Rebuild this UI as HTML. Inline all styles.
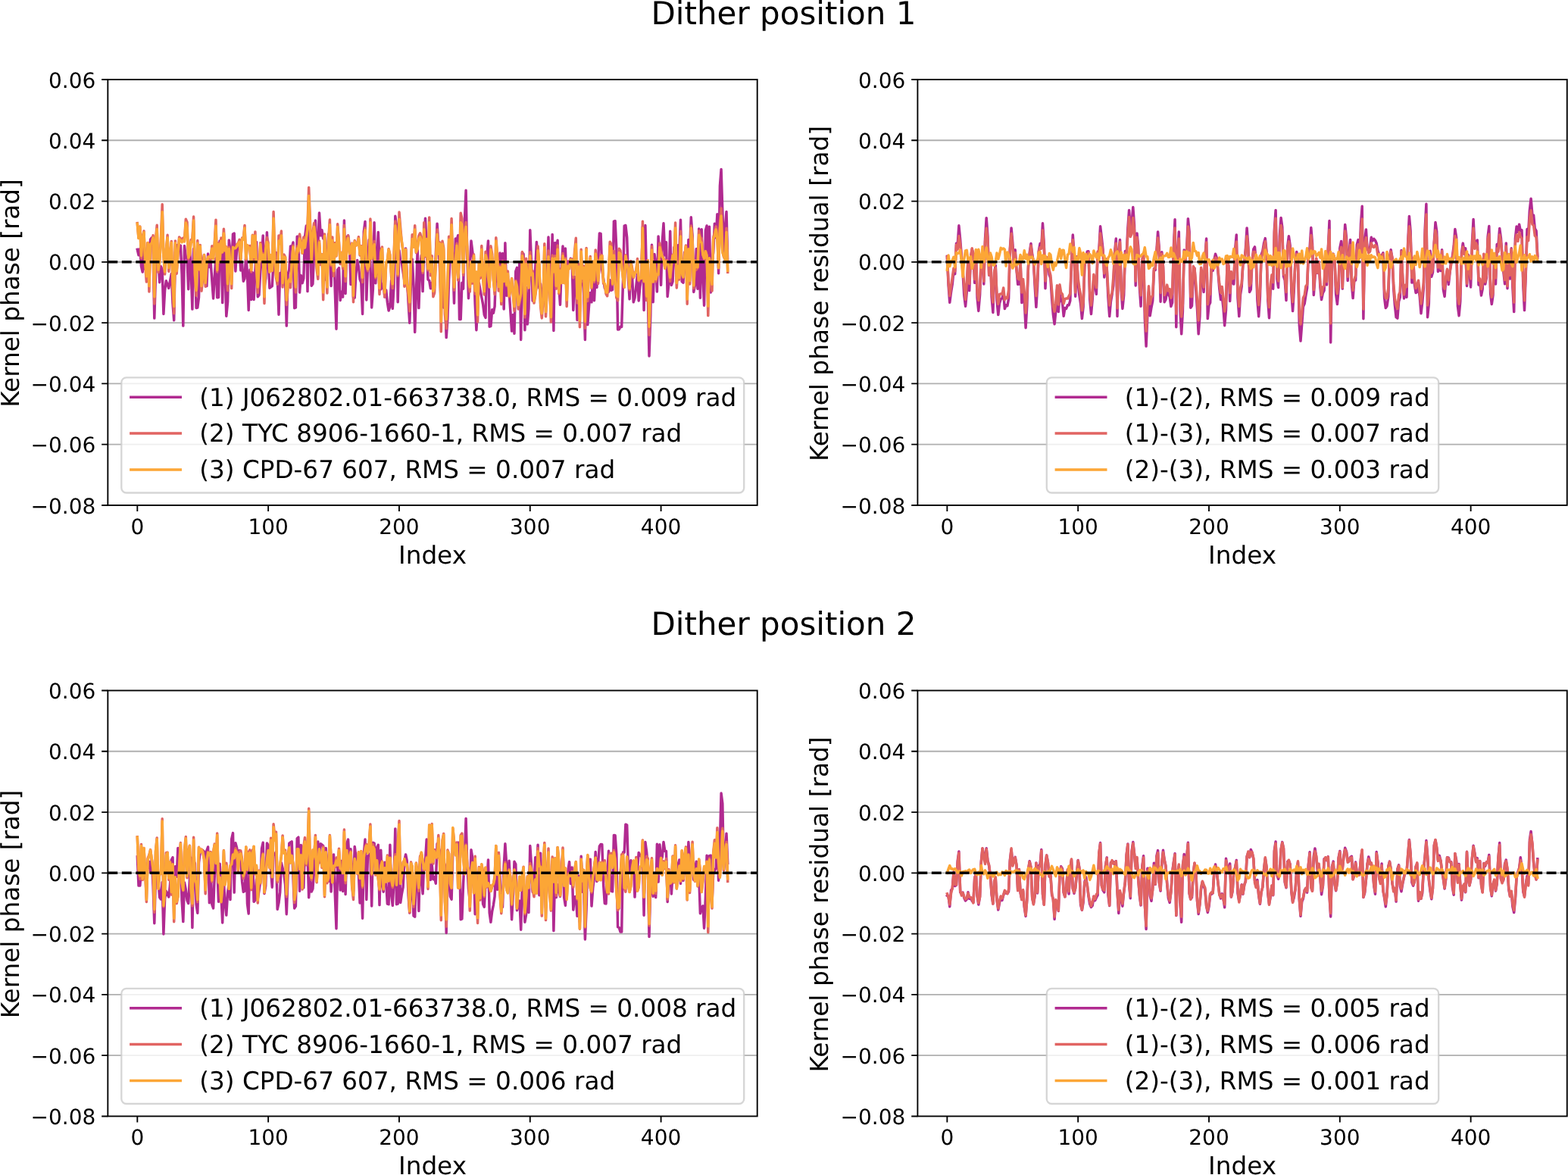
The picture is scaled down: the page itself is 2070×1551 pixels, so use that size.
<!DOCTYPE html><html><head><meta charset="utf-8"><style>html,body{margin:0;padding:0;background:#fff;}svg{display:block}text{font-family:"DejaVu Sans","Liberation Sans",sans-serif;fill:#000;text-rendering:geometricPrecision}</style></head><body>
<svg width="2070" height="1551" viewBox="0 0 2070 1551">
<rect width="2070" height="1551" fill="#fff"/>
<text x="1034.5" y="32.2" font-size="42.0" text-anchor="middle">Dither position 1</text>
<text x="1034.5" y="838.0" font-size="42.0" text-anchor="middle">Dither position 2</text>
<clipPath id="c00"><rect x="142.35" y="105.00" width="857.35" height="561.95"/></clipPath>
<path d="M142.35 185.28H999.70M142.35 265.56H999.70M142.35 345.84H999.70M142.35 426.11H999.70M142.35 506.39H999.70M142.35 586.67H999.70" stroke="#b0b0b0" stroke-width="1.867" fill="none"/>
<polyline clip-path="url(#c00)" points="181.3,329.4 183.0,336.8 184.8,328.4 186.5,351.7 188.2,359.1 190.0,320.8 191.7,355.3 193.4,341.1 195.1,320.8 196.9,343.8 198.6,316.1 200.3,313.8 202.1,327.6 203.8,420.1 205.5,362.0 207.2,336.4 209.0,342.1 210.7,372.7 212.4,351.7 214.2,356.5 215.9,414.5 217.6,383.3 219.3,370.8 221.1,375.6 222.8,380.4 224.5,371.0 226.3,361.5 228.0,400.1 229.7,422.8 231.4,333.1 233.2,323.7 234.9,323.8 236.6,330.7 238.4,324.1 240.1,361.6 241.8,430.1 243.5,324.5 245.3,338.6 247.0,341.3 248.7,381.8 250.4,325.1 252.2,357.7 253.9,408.1 255.6,328.2 257.4,342.9 259.1,406.5 260.8,406.0 262.5,392.5 264.3,333.4 266.0,345.4 267.7,348.4 269.5,336.4 271.2,361.4 272.9,377.6 274.6,335.0 276.4,352.6 278.1,345.3 279.8,369.4 281.6,393.9 283.3,364.0 285.0,341.1 286.7,392.8 288.5,392.5 290.2,318.0 291.9,317.1 293.7,399.6 295.4,315.3 297.1,356.3 298.8,417.3 300.6,398.3 302.3,316.9 304.0,331.6 305.7,356.9 307.5,309.0 309.2,308.1 310.9,357.9 312.7,327.4 314.4,322.9 316.1,330.2 317.8,356.9 319.6,348.2 321.3,371.2 323.0,367.7 324.8,335.0 326.5,361.6 328.2,409.5 329.9,356.1 331.7,395.5 333.4,359.7 335.1,395.5 336.9,359.0 338.6,319.4 340.3,391.8 342.0,389.5 343.8,358.0 345.5,339.2 347.2,310.9 349.0,378.6 350.7,367.6 352.4,306.7 354.1,345.1 355.9,380.2 357.6,378.9 359.3,377.6 361.1,343.9 362.8,347.8 364.5,333.6 366.2,366.7 368.0,415.2 369.7,360.4 371.4,366.7 373.1,340.7 374.9,357.5 376.6,370.8 378.3,430.1 380.1,362.1 381.8,355.6 383.5,325.1 385.2,327.3 387.0,320.0 388.7,406.7 390.4,405.9 392.2,312.3 393.9,312.3 395.6,386.0 397.3,363.4 399.1,373.7 400.8,367.6 402.5,313.4 404.3,298.1 406.0,384.6 407.7,296.1 409.4,304.8 411.2,377.2 412.9,374.7 414.6,334.7 416.4,291.0 418.1,335.6 419.8,323.5 421.5,281.1 423.3,310.9 425.0,303.8 426.7,315.1 428.5,313.6 430.2,369.2 431.9,346.8 433.6,309.1 435.4,325.1 437.1,377.5 438.8,318.7 440.5,321.1 442.3,385.3 444.0,434.2 445.7,356.1 447.5,353.7 449.2,396.4 450.9,385.3 452.6,392.1 454.4,291.0 456.1,387.4 457.8,313.1 459.6,310.8 461.3,323.4 463.0,375.5 464.7,324.8 466.5,392.3 468.2,393.1 469.9,361.7 471.7,343.5 473.4,351.8 475.1,368.6 476.8,373.1 478.6,414.4 480.3,305.9 482.0,292.4 483.8,396.0 485.5,350.9 487.2,316.6 488.9,349.5 490.7,405.9 492.4,381.4 494.1,293.8 495.8,373.8 497.6,339.4 499.3,306.6 501.0,344.7 502.8,381.8 504.5,378.7 506.2,373.4 507.9,392.0 509.7,382.9 511.4,399.3 513.1,410.1 514.9,404.5 516.6,370.3 518.3,407.3 520.0,378.1 521.8,285.3 523.5,297.6 525.2,398.8 527.0,330.5 528.7,344.9 530.4,346.8 532.1,359.1 533.9,370.7 535.6,327.9 537.3,364.5 539.1,399.6 540.8,426.3 542.5,374.4 544.2,342.1 546.0,376.7 547.7,438.5 549.4,386.6 551.2,328.6 552.9,406.6 554.6,352.8 556.3,337.0 558.1,384.6 559.8,322.7 561.5,288.2 563.2,328.6 565.0,369.0 566.7,370.4 568.4,380.8 570.2,373.3 571.9,383.9 573.6,376.1 575.3,335.7 577.1,295.2 578.8,323.2 580.5,354.5 582.3,403.2 584.0,325.8 585.7,405.9 587.4,390.0 589.2,445.6 590.9,420.3 592.6,369.6 594.4,338.0 596.1,310.8 597.8,341.2 599.5,400.2 601.3,315.1 603.0,317.2 604.7,310.8 606.5,421.5 608.2,421.5 609.9,373.3 611.6,381.2 613.4,291.9 615.1,251.3 616.8,340.4 618.5,393.7 620.3,352.7 622.0,317.9 623.7,331.8 625.5,347.7 627.2,401.8 628.9,435.7 630.6,403.3 632.4,373.7 634.1,383.0 635.8,392.3 637.6,401.6 639.3,415.5 641.0,419.4 642.7,341.1 644.5,317.9 646.2,431.2 647.9,430.7 649.7,408.7 651.4,413.2 653.1,404.5 654.8,352.5 656.6,371.0 658.3,366.3 660.0,334.0 661.8,358.2 663.5,334.4 665.2,408.0 666.9,320.8 668.7,390.3 670.4,385.7 672.1,383.8 673.9,411.5 675.6,437.1 677.3,415.5 679.0,440.3 680.8,358.0 682.5,353.4 684.2,384.3 685.9,345.9 687.7,448.4 689.4,333.5 691.1,335.5 692.9,435.7 694.6,379.5 696.3,427.9 698.0,407.0 699.8,303.8 701.5,346.6 703.2,397.1 705.0,377.7 706.7,354.5 708.4,319.4 710.1,352.6 711.9,380.3 713.6,374.9 715.3,390.5 717.1,395.6 718.8,350.6 720.5,405.8 722.2,368.0 724.0,313.0 725.7,374.7 727.4,381.4 729.2,309.4 730.9,436.4 732.6,320.6 734.3,329.4 736.1,317.2 737.8,376.3 739.5,402.3 741.3,351.9 743.0,325.0 744.7,356.3 746.4,328.0 748.2,376.0 749.9,344.9 751.6,351.3 753.3,341.2 755.1,342.9 756.8,409.4 758.5,365.4 760.3,369.0 762.0,422.4 763.7,366.4 765.4,411.9 767.2,346.0 768.9,362.5 770.6,386.8 772.4,448.4 774.1,352.0 775.8,428.6 777.5,404.4 779.3,386.6 781.0,398.8 782.7,361.4 784.5,396.7 786.2,359.6 787.9,379.3 789.6,344.5 791.4,308.0 793.1,308.4 794.8,356.7 796.6,367.7 798.3,380.3 800.0,378.8 801.7,386.3 803.5,385.3 805.2,369.8 806.9,383.2 808.6,382.4 810.4,292.1 812.1,291.7 813.8,328.4 815.6,435.0 817.3,434.8 819.0,431.2 820.7,431.4 822.5,371.5 824.2,298.1 825.9,297.5 827.7,313.5 829.4,365.9 831.1,394.8 832.8,353.2 834.6,365.9 836.3,398.8 838.0,393.2 839.8,377.6 841.5,361.9 843.2,396.9 844.9,378.6 846.7,366.6 848.4,299.3 850.1,409.5 851.9,297.5 853.6,367.0 855.3,392.0 857.0,470.0 858.8,416.3 860.5,323.3 862.2,398.7 864.0,335.5 865.7,349.3 867.4,385.0 869.1,312.0 870.9,341.6 872.6,376.3 874.3,318.9 876.0,294.8 877.8,337.1 879.5,319.8 881.2,391.4 883.0,373.3 884.7,305.3 886.4,376.5 888.1,371.6 889.9,326.4 891.6,327.4 893.3,371.6 895.1,323.7 896.8,331.8 898.5,290.3 900.2,371.6 902.0,373.1 903.7,333.1 905.4,344.5 907.2,375.7 908.9,316.4 910.6,331.6 912.3,286.7 914.1,311.3 915.8,385.5 917.5,376.2 919.3,328.6 921.0,381.3 922.7,302.0 924.4,393.2 926.2,302.7 927.9,364.9 929.6,403.2 931.4,304.3 933.1,298.0 934.8,372.8 936.5,299.3 938.3,386.0 940.0,345.4 941.7,333.3 943.4,295.2 945.2,313.7 946.9,282.7 948.6,360.7 950.4,245.3 952.1,223.5 953.8,279.3 955.5,330.9 957.3,300.1 959.0,279.5 960.7,346.3" fill="none" stroke="#b12a90" stroke-width="3.48" stroke-linejoin="round" stroke-linecap="square"/>
<polyline clip-path="url(#c00)" points="181.3,294.7 183.0,314.2 184.8,299.0 186.5,340.8 188.2,312.5 190.0,304.9 191.7,350.5 193.4,372.0 195.1,320.6 196.9,384.9 198.6,325.3 200.3,322.8 202.1,310.8 203.8,401.0 205.5,315.9 207.2,297.3 209.0,359.5 210.7,345.3 212.4,316.6 214.2,269.8 215.9,337.2 217.6,362.0 219.3,330.9 221.1,310.3 222.8,358.3 224.5,337.9 226.3,318.5 228.0,377.2 229.7,413.7 231.4,317.9 233.2,361.2 234.9,336.3 236.6,312.9 238.4,315.3 240.1,315.3 241.8,314.1 243.5,317.9 245.3,289.2 247.0,293.1 248.7,341.9 250.4,335.6 252.2,316.7 253.9,315.3 255.6,286.0 257.4,364.8 259.1,390.2 260.8,317.6 262.5,356.4 264.3,323.5 266.0,384.1 267.7,368.4 269.5,338.3 271.2,378.3 272.9,349.0 274.6,341.4 276.4,341.4 278.1,342.9 279.8,324.8 281.6,340.8 283.3,320.2 285.0,290.2 286.7,358.7 288.5,320.6 290.2,346.1 291.9,314.1 293.7,331.6 295.4,302.3 297.1,331.3 298.8,326.0 300.6,383.4 302.3,326.3 304.0,351.8 305.7,380.6 307.5,325.9 309.2,327.8 310.9,327.5 312.7,322.6 314.4,321.2 316.1,316.4 317.8,343.2 319.6,314.0 321.3,315.7 323.0,297.4 324.8,342.7 326.5,324.3 328.2,324.8 329.9,324.5 331.7,358.9 333.4,310.3 335.1,343.8 336.9,305.9 338.6,355.9 340.3,386.3 342.0,350.7 343.8,320.5 345.5,344.9 347.2,334.4 349.0,400.5 350.7,325.7 352.4,313.5 354.1,320.1 355.9,358.9 357.6,337.5 359.3,357.5 361.1,279.5 362.8,337.2 364.5,366.4 366.2,375.4 368.0,311.1 369.7,320.1 371.4,305.1 373.1,378.9 374.9,336.0 376.6,339.3 378.3,402.5 380.1,377.5 381.8,374.9 383.5,379.7 385.2,347.4 387.0,324.1 388.7,342.2 390.4,386.0 392.2,325.3 393.9,333.3 395.6,309.0 397.3,319.7 399.1,334.3 400.8,313.1 402.5,326.5 404.3,313.2 406.0,298.1 407.7,247.4 409.4,291.0 411.2,346.1 412.9,308.3 414.6,294.6 416.4,313.3 418.1,354.8 419.8,368.3 421.5,317.9 423.3,349.4 425.0,335.7 426.7,395.7 428.5,309.1 430.2,349.1 431.9,386.9 433.6,316.8 435.4,290.0 437.1,350.7 438.8,312.9 440.5,364.5 442.3,320.5 444.0,338.0 445.7,295.8 447.5,319.7 449.2,348.6 450.9,333.3 452.6,354.7 454.4,297.4 456.1,371.4 457.8,317.8 459.6,311.3 461.3,332.7 463.0,329.3 464.7,321.1 466.5,398.7 468.2,317.5 469.9,324.1 471.7,321.7 473.4,312.7 475.1,336.9 476.8,324.5 478.6,372.6 480.3,313.8 482.0,300.9 483.8,348.6 485.5,357.7 487.2,350.8 488.9,289.0 490.7,341.1 492.4,327.1 494.1,318.4 495.8,367.0 497.6,355.3 499.3,345.0 501.0,388.5 502.8,330.3 504.5,326.0 506.2,374.0 507.9,391.8 509.7,347.6 511.4,345.0 513.1,328.6 514.9,336.2 516.6,365.3 518.3,380.6 520.0,337.0 521.8,292.1 523.5,311.2 525.2,364.1 527.0,280.1 528.7,301.2 530.4,319.8 532.1,331.0 533.9,378.2 535.6,329.5 537.3,377.3 539.1,389.6 540.8,410.7 542.5,344.4 544.2,309.7 546.0,326.1 547.7,297.7 549.4,333.7 551.2,328.0 552.9,311.3 554.6,307.7 556.3,314.3 558.1,360.2 559.8,293.8 561.5,338.8 563.2,315.6 565.0,356.8 566.7,286.9 568.4,363.7 570.2,337.7 571.9,391.7 573.6,386.7 575.3,345.3 577.1,303.0 578.8,329.5 580.5,320.0 582.3,437.8 584.0,318.3 585.7,327.4 587.4,414.3 589.2,433.6 590.9,381.9 592.6,312.3 594.4,341.8 596.1,288.6 597.8,349.3 599.5,383.1 601.3,345.3 603.0,321.5 604.7,370.0 606.5,342.3 608.2,281.2 609.9,288.6 611.6,363.1 613.4,305.6 615.1,293.5 616.8,325.4 618.5,375.0 620.3,385.1 622.0,344.7 623.7,374.1 625.5,335.8 627.2,388.0 628.9,362.3 630.6,424.7 632.4,347.2 634.1,367.2 635.8,324.5 637.6,367.4 639.3,388.9 641.0,332.2 642.7,341.9 644.5,365.8 646.2,378.2 647.9,324.8 649.7,335.6 651.4,369.3 653.1,388.7 654.8,313.7 656.6,337.1 658.3,383.9 660.0,351.2 661.8,401.8 663.5,344.5 665.2,370.9 666.9,345.4 668.7,377.3 670.4,358.0 672.1,392.0 673.9,382.7 675.6,367.6 677.3,388.6 679.0,410.3 680.8,370.5 682.5,377.3 684.2,407.9 685.9,399.7 687.7,390.3 689.4,332.4 691.1,343.1 692.9,418.9 694.6,341.3 696.3,361.3 698.0,380.2 699.8,332.8 701.5,363.1 703.2,357.7 705.0,400.1 706.7,390.0 708.4,377.5 710.1,324.9 711.9,350.7 713.6,404.3 715.3,419.9 717.1,395.1 718.8,321.7 720.5,417.8 722.2,384.1 724.0,331.0 725.7,383.7 727.4,425.1 729.2,337.0 730.9,359.5 732.6,337.8 734.3,381.3 736.1,324.0 737.8,387.8 739.5,355.1 741.3,373.5 743.0,334.4 744.7,373.6 746.4,340.7 748.2,404.4 749.9,350.3 751.6,353.7 753.3,342.6 755.1,342.0 756.8,366.7 758.5,333.2 760.3,314.3 762.0,400.0 763.7,348.6 765.4,431.8 767.2,329.2 768.9,371.4 770.6,351.1 772.4,433.1 774.1,327.4 775.8,397.5 777.5,355.9 779.3,338.6 781.0,380.6 782.7,345.3 784.5,372.5 786.2,329.9 787.9,344.9 789.6,374.4 791.4,347.3 793.1,336.4 794.8,337.1 796.6,374.0 798.3,376.0 800.0,387.8 801.7,390.8 803.5,361.8 805.2,319.2 806.9,322.2 808.6,376.0 810.4,331.2 812.1,368.4 813.8,393.0 815.6,396.6 817.3,328.2 819.0,330.8 820.7,349.7 822.5,366.8 824.2,379.2 825.9,336.7 827.7,347.5 829.4,357.5 831.1,382.7 832.8,344.5 834.6,354.0 836.3,366.8 838.0,361.3 839.8,356.7 841.5,341.6 843.2,370.6 844.9,367.3 846.7,367.8 848.4,292.3 850.1,372.0 851.9,347.4 853.6,396.6 855.3,343.7 857.0,442.3 858.8,382.5 860.5,325.2 862.2,372.3 864.0,346.6 865.7,371.8 867.4,362.7 869.1,361.5 870.9,321.1 872.6,330.4 874.3,337.2 876.0,340.7 877.8,353.9 879.5,343.4 881.2,344.5 883.0,355.2 884.7,371.6 886.4,350.4 888.1,336.3 889.9,342.2 891.6,294.0 893.3,379.9 895.1,352.4 896.8,369.0 898.5,305.3 900.2,362.1 902.0,366.5 903.7,339.3 905.4,323.9 907.2,401.2 908.9,328.4 910.6,375.0 912.3,297.9 914.1,314.5 915.8,380.7 917.5,345.1 919.3,356.2 921.0,353.4 922.7,304.7 924.4,313.2 926.2,314.7 927.9,335.3 929.6,341.8 931.4,331.6 933.1,338.2 934.8,416.6 936.5,342.8 938.3,368.1 940.0,384.0 941.7,314.0 943.4,306.1 945.2,299.0 946.9,310.9 948.6,353.9 950.4,295.9 952.1,275.1 953.8,332.0 955.5,338.8 957.3,342.9 959.0,301.2 960.7,359.3" fill="none" stroke="#e16462" stroke-width="3.48" stroke-linejoin="round" stroke-linecap="square"/>
<polyline clip-path="url(#c00)" points="181.3,295.3 183.0,314.6 184.8,299.6 186.5,337.4 188.2,314.3 190.0,306.7 191.7,345.5 193.4,364.8 195.1,320.6 196.9,377.6 198.6,322.3 200.3,320.8 202.1,313.9 203.8,391.8 205.5,318.0 207.2,302.4 209.0,356.3 210.7,343.6 212.4,319.7 214.2,279.7 215.9,337.6 217.6,358.7 219.3,329.9 221.1,313.8 222.8,353.6 224.5,336.4 226.3,320.2 228.0,371.3 229.7,404.5 231.4,320.8 233.2,357.7 234.9,334.8 236.6,315.3 238.4,317.3 240.1,319.9 241.8,317.2 243.5,319.0 245.3,293.9 247.0,300.3 248.7,340.0 250.4,336.2 252.2,319.2 253.9,319.2 255.6,291.1 257.4,361.4 259.1,383.3 260.8,321.0 262.5,355.5 264.3,325.1 266.0,377.6 267.7,365.6 269.5,336.4 271.2,373.3 272.9,346.2 274.6,339.3 276.4,338.8 278.1,340.2 279.8,327.9 281.6,341.7 283.3,322.8 285.0,298.2 286.7,356.3 288.5,322.2 290.2,343.4 291.9,318.0 293.7,333.0 295.4,308.1 297.1,330.5 298.8,326.5 300.6,374.7 302.3,328.4 304.0,350.0 305.7,374.7 307.5,326.6 309.2,327.9 310.9,327.5 312.7,325.1 314.4,321.6 316.1,319.4 317.8,342.1 319.6,315.2 321.3,316.2 323.0,301.0 324.8,341.4 326.5,323.6 328.2,326.8 329.9,327.3 331.7,356.3 333.4,310.9 335.1,339.4 336.9,310.9 338.6,355.5 340.3,379.0 342.0,349.5 343.8,322.3 345.5,343.4 347.2,336.4 349.0,391.8 350.7,328.6 352.4,319.4 354.1,322.5 355.9,359.2 357.6,336.4 359.3,357.3 361.1,288.2 362.8,341.9 364.5,363.8 366.2,370.5 368.0,317.9 369.7,321.6 371.4,310.9 373.1,373.5 374.9,339.1 376.6,339.9 378.3,396.0 380.1,373.0 381.8,369.1 383.5,371.9 385.2,349.1 387.0,326.1 388.7,339.6 390.4,378.9 392.2,327.9 393.9,331.3 395.6,315.1 397.3,321.0 399.1,333.7 400.8,317.1 402.5,327.1 404.3,313.7 406.0,303.3 407.7,258.4 409.4,297.4 411.2,342.6 412.9,309.2 414.6,299.5 416.4,314.3 418.1,348.0 419.8,362.2 421.5,320.0 423.3,345.6 425.0,336.3 426.7,386.0 428.5,311.6 430.2,344.6 431.9,378.9 433.6,318.6 435.4,296.7 437.1,349.0 438.8,317.3 440.5,357.7 442.3,322.2 444.0,337.3 445.7,299.5 447.5,321.6 449.2,345.5 450.9,333.8 452.6,351.2 454.4,302.3 456.1,364.7 457.8,321.6 459.6,314.5 461.3,335.0 463.0,329.3 464.7,321.8 466.5,390.3 468.2,318.8 469.9,323.8 471.7,323.1 473.4,315.1 475.1,335.5 476.8,325.2 478.6,366.2 480.3,317.0 482.0,303.8 483.8,349.4 485.5,355.2 487.2,350.8 488.9,293.8 490.7,341.4 492.4,328.6 494.1,322.7 495.8,365.0 497.6,351.6 499.3,346.6 501.0,380.3 502.8,333.7 504.5,328.4 506.2,368.1 507.9,386.0 509.7,346.5 511.4,343.0 513.1,329.3 514.9,337.6 516.6,360.6 518.3,374.7 520.0,340.8 521.8,298.1 523.5,315.9 525.2,362.0 527.0,289.6 528.7,307.6 530.4,318.7 532.1,331.1 533.9,374.3 535.6,329.2 537.3,374.5 539.1,382.7 540.8,398.8 542.5,343.5 544.2,315.6 546.0,326.1 547.7,303.1 549.4,332.6 551.2,328.5 552.9,315.3 554.6,312.8 556.3,317.9 558.1,357.7 559.8,302.8 561.5,337.2 563.2,315.6 565.0,354.7 566.7,293.8 568.4,358.8 570.2,341.1 571.9,384.5 573.6,379.3 575.3,345.7 577.1,309.4 578.8,335.2 580.5,321.4 582.3,424.3 584.0,322.0 585.7,329.8 587.4,405.5 589.2,421.5 590.9,375.4 592.6,316.2 594.4,343.1 596.1,296.7 597.8,347.5 599.5,378.9 601.3,346.0 603.0,324.3 604.7,366.2 606.5,343.0 608.2,293.8 609.9,296.7 611.6,359.6 613.4,310.6 615.1,299.5 616.8,329.7 618.5,368.7 620.3,378.9 622.0,346.3 623.7,371.4 625.5,337.8 627.2,384.0 628.9,358.8 630.6,415.8 632.4,346.8 634.1,363.7 635.8,329.3 637.6,365.2 639.3,384.6 641.0,336.8 642.7,342.7 644.5,366.0 646.2,378.9 647.9,329.3 649.7,340.2 651.4,369.4 653.1,383.2 654.8,317.9 656.6,340.4 658.3,378.4 660.0,353.1 661.8,397.4 663.5,348.2 665.2,371.4 666.9,350.6 668.7,375.7 670.4,361.5 672.1,390.3 673.9,382.1 675.6,367.9 677.3,388.0 679.0,404.5 680.8,371.8 682.5,378.3 684.2,402.5 685.9,395.2 687.7,387.3 689.4,337.8 691.1,347.6 692.9,414.4 694.6,348.5 696.3,365.6 698.0,379.8 699.8,337.8 701.5,362.9 703.2,360.9 705.0,397.4 706.7,387.6 708.4,376.5 710.1,330.7 711.9,349.7 713.6,400.1 715.3,413.7 717.1,391.7 718.8,326.4 720.5,411.6 722.2,382.9 724.0,338.7 725.7,383.3 727.4,418.6 729.2,340.9 730.9,358.6 732.6,341.0 734.3,377.5 736.1,329.3 737.8,386.0 739.5,357.2 741.3,373.4 743.0,337.8 744.7,373.5 746.4,343.0 748.2,396.0 749.9,351.5 751.6,354.8 753.3,342.4 755.1,344.0 756.8,362.6 758.5,336.3 760.3,322.2 762.0,394.0 763.7,352.1 765.4,422.9 767.2,332.1 768.9,367.6 770.6,353.2 772.4,424.3 774.1,329.3 775.8,391.9 777.5,358.0 779.3,340.5 781.0,378.9 782.7,345.1 784.5,369.9 786.2,335.0 787.9,345.1 789.6,370.4 791.4,346.9 793.1,339.1 794.8,337.8 796.6,372.0 798.3,374.4 800.0,386.0 801.7,386.0 803.5,363.6 805.2,325.0 806.9,326.4 808.6,374.4 810.4,337.0 812.1,369.2 813.8,389.6 815.6,391.7 817.3,333.6 819.0,335.0 820.7,351.1 822.5,366.1 824.2,378.9 825.9,337.8 827.7,348.6 829.4,356.1 831.1,380.6 832.8,348.1 834.6,356.5 836.3,365.4 838.0,361.2 839.8,358.1 841.5,344.4 843.2,369.8 844.9,366.7 846.7,367.2 848.4,301.1 850.1,371.1 851.9,347.0 853.6,391.0 855.3,343.7 857.0,431.2 858.8,378.1 860.5,330.0 862.2,371.9 864.0,346.2 865.7,368.7 867.4,362.1 869.1,362.5 870.9,326.4 872.6,334.1 874.3,339.3 876.0,341.7 877.8,354.2 879.5,344.9 881.2,345.2 883.0,353.6 884.7,366.2 886.4,349.0 888.1,337.3 889.9,341.3 891.6,301.1 893.3,373.4 895.1,351.2 896.8,366.6 898.5,312.0 900.2,360.5 902.0,365.5 903.7,339.1 905.4,325.3 907.2,395.0 908.9,329.0 910.6,370.4 912.3,301.1 914.1,320.2 915.8,377.0 917.5,344.0 919.3,352.3 921.0,352.7 922.7,310.2 924.4,318.5 926.2,320.6 927.9,336.4 929.6,340.9 931.4,331.7 933.1,337.3 934.8,404.1 936.5,340.7 938.3,363.5 940.0,375.2 941.7,314.8 943.4,311.5 945.2,302.9 946.9,315.5 948.6,353.5 950.4,301.7 952.1,284.9 953.8,333.0 955.5,338.1 957.3,342.5 959.0,306.6 960.7,357.1" fill="none" stroke="#fca636" stroke-width="3.48" stroke-linejoin="round" stroke-linecap="square"/>
<path d="M142.35 345.84H999.70" stroke="#000" stroke-width="3.48" stroke-dasharray="12.88 5.57" fill="none"/>
<rect x="160.30" y="498.30" width="821.90" height="152.20" rx="6.5" ry="6.5" fill="#fff" fill-opacity="0.8" stroke="#cccccc" stroke-opacity="0.8" stroke-width="2.33"/>
<path d="M172.85 524.20H238.25" stroke="#b12a90" stroke-width="3.48" stroke-linecap="square"/>
<text x="263.30" y="535.90" font-size="32.67">(1) J062802.01-663738.0, RMS = 0.009 rad</text>
<path d="M172.85 572.05H238.25" stroke="#e16462" stroke-width="3.48" stroke-linecap="square"/>
<text x="263.30" y="583.40" font-size="32.67">(2) TYC 8906-1660-1, RMS = 0.007 rad</text>
<path d="M172.85 619.90H238.25" stroke="#fca636" stroke-width="3.48" stroke-linecap="square"/>
<text x="263.30" y="631.10" font-size="32.67">(3) CPD-67 607, RMS = 0.007 rad</text>
<rect x="142.35" y="105.00" width="857.35" height="561.95" fill="none" stroke="#000" stroke-width="1.867" stroke-linejoin="miter" stroke-linecap="square"/>
<path d="M142.35 105.00h-8.17M142.35 185.28h-8.17M142.35 265.56h-8.17M142.35 345.84h-8.17M142.35 426.11h-8.17M142.35 506.39h-8.17M142.35 586.67h-8.17M142.35 666.95h-8.17M181.32 666.95v8.17M354.14 666.95v8.17M526.96 666.95v8.17M699.77 666.95v8.17M872.59 666.95v8.17" stroke="#000" stroke-width="1.867" fill="none"/>
<text x="126.30" y="115.60" font-size="28.0" text-anchor="end">0.06</text>
<text x="126.30" y="195.88" font-size="28.0" text-anchor="end">0.04</text>
<text x="126.30" y="276.16" font-size="28.0" text-anchor="end">0.02</text>
<text x="126.30" y="356.44" font-size="28.0" text-anchor="end">0.00</text>
<text x="126.30" y="436.71" font-size="28.0" text-anchor="end">−0.02</text>
<text x="126.30" y="516.99" font-size="28.0" text-anchor="end">−0.04</text>
<text x="126.30" y="597.27" font-size="28.0" text-anchor="end">−0.06</text>
<text x="126.30" y="677.55" font-size="28.0" text-anchor="end">−0.08</text>
<text x="181.32" y="704.50" font-size="28.0" text-anchor="middle">0</text>
<text x="354.14" y="704.50" font-size="28.0" text-anchor="middle">100</text>
<text x="526.96" y="704.50" font-size="28.0" text-anchor="middle">200</text>
<text x="699.77" y="704.50" font-size="28.0" text-anchor="middle">300</text>
<text x="872.59" y="704.50" font-size="28.0" text-anchor="middle">400</text>
<text x="571.02" y="743.80" font-size="32.67" text-anchor="middle">Index</text>
<text transform="translate(24.80,386.98) rotate(-90)" font-size="32.67" text-anchor="middle">Kernel phase [rad]</text>
<clipPath id="c01"><rect x="1211.40" y="105.00" width="857.35" height="561.95"/></clipPath>
<path d="M1211.40 185.28H2068.75M1211.40 265.56H2068.75M1211.40 345.84H2068.75M1211.40 426.11H2068.75M1211.40 506.39H2068.75M1211.40 586.67H2068.75" stroke="#b0b0b0" stroke-width="1.867" fill="none"/>
<polyline clip-path="url(#c01)" points="1250.4,338.3 1252.1,376.8 1253.8,399.3 1255.6,385.1 1257.3,374.6 1259.0,357.6 1260.7,361.7 1262.5,321.2 1264.2,322.7 1265.9,297.8 1267.7,316.6 1269.4,338.8 1271.1,360.7 1272.8,389.8 1274.6,404.3 1276.3,385.3 1278.0,344.0 1279.7,383.6 1281.5,339.9 1283.2,329.3 1284.9,334.2 1286.7,373.3 1288.4,335.1 1290.1,393.1 1291.8,410.4 1293.6,389.2 1295.3,340.2 1297.0,338.3 1298.8,375.0 1300.5,315.6 1302.2,287.7 1303.9,311.0 1305.7,363.2 1307.4,335.0 1309.1,391.9 1310.9,412.4 1312.6,359.9 1314.3,350.1 1316.0,396.3 1317.8,415.5 1319.5,400.6 1321.2,394.7 1323.0,393.7 1324.7,386.4 1326.4,407.6 1328.1,402.7 1329.9,403.7 1331.6,394.2 1333.3,329.1 1335.1,300.9 1336.8,320.3 1338.5,348.0 1340.2,329.8 1342.0,355.9 1343.7,375.3 1345.4,375.1 1347.1,346.1 1348.9,399.6 1350.6,376.2 1352.3,397.1 1354.1,432.7 1355.8,403.5 1357.5,351.0 1359.2,333.6 1361.0,321.4 1362.7,335.6 1364.4,345.5 1366.2,378.6 1367.9,405.3 1369.6,377.8 1371.3,331.3 1373.1,321.5 1374.8,326.0 1376.5,294.8 1378.3,321.8 1380.0,380.8 1381.7,339.8 1383.4,344.7 1385.2,362.5 1386.9,367.3 1388.6,394.0 1390.4,415.5 1392.1,427.7 1393.8,411.4 1395.5,382.1 1397.3,411.5 1399.0,388.7 1400.7,395.9 1402.5,399.6 1404.2,417.3 1405.9,406.5 1407.6,407.4 1409.4,402.8 1411.1,402.7 1412.8,397.0 1414.5,348.1 1416.3,310.0 1418.0,334.5 1419.7,391.3 1421.5,338.8 1423.2,374.7 1424.9,389.6 1426.6,400.9 1428.4,420.6 1430.1,405.4 1431.8,351.7 1433.6,340.1 1435.3,332.0 1437.0,331.8 1438.7,395.2 1440.5,414.5 1442.2,395.1 1443.9,366.6 1445.7,376.8 1447.4,388.2 1449.1,334.3 1450.8,330.4 1452.6,298.8 1454.3,313.4 1456.0,328.6 1457.8,365.9 1459.5,342.0 1461.2,354.5 1462.9,392.4 1464.7,417.5 1466.4,398.1 1468.1,388.4 1469.8,377.0 1471.6,332.6 1473.3,315.1 1475.0,417.5 1476.8,331.2 1478.5,316.5 1480.2,383.1 1481.9,407.4 1483.7,389.3 1485.4,331.6 1487.1,338.1 1488.9,300.9 1490.6,277.5 1492.3,301.6 1494.0,296.0 1495.8,273.5 1497.5,297.7 1499.2,377.0 1501.0,307.9 1502.7,325.2 1504.4,379.9 1506.1,404.3 1507.9,345.4 1509.6,334.8 1511.3,420.0 1513.1,457.1 1514.8,417.7 1516.5,385.2 1518.2,416.7 1520.0,405.8 1521.7,397.2 1523.4,357.1 1525.2,356.3 1526.9,330.3 1528.6,305.9 1530.3,327.5 1532.1,398.2 1533.8,332.7 1535.5,353.0 1537.2,398.8 1539.0,395.4 1540.7,383.3 1542.4,388.2 1544.2,391.6 1545.9,404.5 1547.6,399.5 1549.3,328.6 1551.1,289.7 1552.8,431.7 1554.5,335.7 1556.3,306.0 1558.0,410.4 1559.7,440.8 1561.4,410.8 1563.2,329.9 1564.9,343.6 1566.6,330.0 1568.4,288.7 1570.1,305.7 1571.8,406.3 1573.5,403.8 1575.3,360.3 1577.0,354.1 1578.7,381.6 1580.5,407.8 1582.2,440.8 1583.9,417.3 1585.6,358.7 1587.4,364.3 1589.1,385.4 1590.8,340.8 1592.6,315.1 1594.3,420.6 1596.0,402.9 1597.7,399.5 1599.5,345.3 1601.2,357.3 1602.9,342.8 1604.6,335.2 1606.4,340.7 1608.1,360.4 1609.8,381.2 1611.6,395.6 1613.3,390.8 1615.0,406.8 1616.7,429.7 1618.5,409.0 1620.2,342.6 1621.9,351.4 1623.7,397.5 1625.4,361.0 1627.1,373.0 1628.8,375.0 1630.6,328.8 1632.3,310.0 1634.0,393.0 1635.8,417.5 1637.5,389.0 1639.2,378.1 1640.9,349.0 1642.7,346.6 1644.4,328.1 1646.1,300.9 1647.9,326.1 1649.6,385.4 1651.3,382.1 1653.0,345.6 1654.8,328.9 1656.5,325.9 1658.2,345.2 1659.9,396.6 1661.7,417.7 1663.4,392.0 1665.1,336.2 1666.9,331.0 1668.6,320.9 1670.3,314.6 1672.0,332.0 1673.8,396.3 1675.5,419.7 1677.2,383.6 1679.0,370.3 1680.7,381.2 1682.4,302.9 1684.1,277.4 1685.9,368.3 1687.6,379.6 1689.3,311.8 1691.1,287.5 1692.8,300.1 1694.5,364.8 1696.2,369.9 1698.0,396.5 1699.7,325.5 1701.4,311.7 1703.2,324.3 1704.9,386.1 1706.6,410.6 1708.3,383.2 1710.1,341.9 1711.8,332.4 1713.5,346.4 1715.3,429.2 1717.0,450.0 1718.7,427.9 1720.4,404.8 1722.2,400.7 1723.9,389.7 1725.6,380.2 1727.3,335.9 1729.1,326.6 1730.8,300.6 1732.5,321.8 1734.3,389.5 1736.0,365.7 1737.7,341.6 1739.4,360.6 1741.2,345.4 1742.9,379.3 1744.6,395.5 1746.4,386.7 1748.1,383.4 1749.8,333.8 1751.5,376.0 1753.3,328.8 1755.0,291.5 1756.7,452.0 1758.5,345.8 1760.2,335.1 1761.9,341.5 1763.6,388.2 1765.4,401.5 1767.1,381.7 1768.8,327.6 1770.6,318.5 1772.3,381.1 1774.0,326.0 1775.7,296.5 1777.5,314.0 1779.2,370.5 1780.9,335.9 1782.6,316.4 1784.4,375.6 1786.1,393.5 1787.8,370.7 1789.6,369.9 1791.3,323.0 1793.0,316.6 1794.7,338.2 1796.5,296.2 1798.2,272.3 1799.9,420.7 1801.7,316.9 1803.4,302.9 1805.1,329.3 1806.8,329.8 1808.6,326.9 1810.3,313.3 1812.0,317.9 1813.8,315.3 1815.5,317.3 1817.2,321.3 1818.9,330.8 1820.7,336.3 1822.4,337.8 1824.1,337.2 1825.9,333.9 1827.6,393.1 1829.3,406.6 1831.0,404.0 1832.8,391.6 1834.5,338.5 1836.2,329.8 1838.0,340.7 1839.7,380.8 1841.4,402.8 1843.1,418.7 1844.9,420.1 1846.6,397.9 1848.3,392.5 1850.0,330.5 1851.8,371.1 1853.5,393.9 1855.2,385.8 1857.0,392.2 1858.7,319.3 1860.4,285.4 1862.1,304.7 1863.9,373.1 1865.6,341.5 1867.3,374.8 1869.1,386.5 1870.8,385.4 1872.5,377.8 1874.2,391.2 1876.0,413.7 1877.7,399.1 1879.4,379.8 1881.2,302.3 1882.9,269.3 1884.6,418.7 1886.3,401.1 1888.1,331.3 1889.8,365.2 1891.5,359.4 1893.3,319.4 1895.0,293.5 1896.7,305.5 1898.4,358.4 1900.2,338.0 1901.9,357.5 1903.6,329.7 1905.4,382.5 1907.1,391.4 1908.8,368.0 1910.5,357.1 1912.3,375.5 1914.0,360.5 1915.7,344.9 1917.4,338.5 1919.2,325.1 1920.9,302.6 1922.6,313.3 1924.4,404.0 1926.1,416.7 1927.8,397.7 1929.5,333.9 1931.3,321.1 1933.0,331.9 1934.7,327.8 1936.5,377.5 1938.2,336.2 1939.9,358.4 1941.6,378.9 1943.4,320.5 1945.1,289.5 1946.8,322.8 1948.6,319.4 1950.3,317.0 1952.0,376.0 1953.7,371.6 1955.5,390.0 1957.2,381.3 1958.9,335.4 1960.7,375.1 1962.4,366.7 1964.1,312.5 1965.8,298.6 1967.6,387.2 1969.3,401.5 1971.0,389.8 1972.7,340.8 1974.5,374.9 1976.2,322.5 1977.9,324.1 1979.7,301.6 1981.4,313.9 1983.1,337.8 1984.8,358.6 1986.6,374.7 1988.3,320.9 1990.0,380.8 1991.8,335.9 1993.5,368.0 1995.2,327.7 1996.9,379.4 1998.7,411.6 2000.4,314.8 2002.1,298.9 2003.9,306.3 2005.6,296.2 2007.3,304.6 2009.0,303.7 2010.8,376.4 2012.5,409.6 2014.2,364.6 2016.0,302.5 2017.7,306.1 2019.4,277.1 2021.1,262.2 2022.9,283.3 2024.6,284.1 2026.3,301.8 2028.1,304.6 2029.8,337.8" fill="none" stroke="#b12a90" stroke-width="3.48" stroke-linejoin="round" stroke-linecap="square"/>
<polyline clip-path="url(#c01)" points="1250.4,339.3 1252.1,372.9 1253.8,390.5 1255.6,377.3 1257.3,366.0 1259.0,354.1 1260.7,357.9 1262.5,323.3 1264.2,329.2 1265.9,311.6 1267.7,323.3 1269.4,340.8 1271.1,355.2 1272.8,376.7 1274.6,395.3 1276.3,372.4 1278.0,341.2 1279.7,374.4 1281.5,340.3 1283.2,327.7 1284.9,336.3 1286.7,368.7 1288.4,336.9 1290.1,386.3 1291.8,396.5 1293.6,380.7 1295.3,340.7 1297.0,339.0 1298.8,371.3 1300.5,318.9 1302.2,301.3 1303.9,316.2 1305.7,362.9 1307.4,336.4 1309.1,384.3 1310.9,399.0 1312.6,358.4 1314.3,353.6 1316.0,388.4 1317.8,401.4 1319.5,388.3 1321.2,387.8 1323.0,388.4 1324.7,380.0 1326.4,395.7 1328.1,392.6 1329.9,393.7 1331.6,382.8 1333.3,330.5 1335.1,308.3 1336.8,327.3 1338.5,347.4 1340.2,333.4 1342.0,356.7 1343.7,367.6 1345.4,369.0 1347.1,347.0 1348.9,386.0 1350.6,368.5 1352.3,385.1 1354.1,412.9 1355.8,390.5 1357.5,352.5 1359.2,336.8 1361.0,324.2 1362.7,339.1 1364.4,345.5 1366.2,371.2 1367.9,390.5 1369.6,368.8 1371.3,332.3 1373.1,326.7 1374.8,328.1 1376.5,303.9 1378.3,326.9 1380.0,371.0 1381.7,340.0 1383.4,346.4 1385.2,356.6 1386.9,363.5 1388.6,383.1 1390.4,404.6 1392.1,411.3 1393.8,400.2 1395.5,376.7 1397.3,402.1 1399.0,375.8 1400.7,386.2 1402.5,388.3 1404.2,400.8 1405.9,394.6 1407.6,394.0 1409.4,394.1 1411.1,390.9 1412.8,387.6 1414.5,346.6 1416.3,316.8 1418.0,339.5 1419.7,385.9 1421.5,342.2 1423.2,367.5 1424.9,380.0 1426.6,389.1 1428.4,409.7 1430.1,398.9 1431.8,351.7 1433.6,341.9 1435.3,336.0 1437.0,333.9 1438.7,385.7 1440.5,403.1 1442.2,387.0 1443.9,362.2 1445.7,370.4 1447.4,379.8 1449.1,332.0 1450.8,334.0 1452.6,308.0 1454.3,321.8 1456.0,332.8 1457.8,360.8 1459.5,341.6 1461.2,353.1 1462.9,382.3 1464.7,403.1 1466.4,391.5 1468.1,386.5 1469.8,366.1 1471.6,333.6 1473.3,321.3 1475.0,406.7 1476.8,336.7 1478.5,319.7 1480.2,381.2 1481.9,395.7 1483.7,378.9 1485.4,334.2 1487.1,338.1 1488.9,310.2 1490.6,286.4 1492.3,312.5 1494.0,308.7 1495.8,287.4 1497.5,304.5 1499.2,370.9 1501.0,313.3 1502.7,330.4 1504.4,375.4 1506.1,389.8 1507.9,342.3 1509.6,333.9 1511.3,406.0 1513.1,437.1 1514.8,405.6 1516.5,377.8 1518.2,401.3 1520.0,392.8 1521.7,389.8 1523.4,354.5 1525.2,354.2 1526.9,333.2 1528.6,314.0 1530.3,331.6 1532.1,386.5 1533.8,335.0 1535.5,351.1 1537.2,389.6 1539.0,384.7 1540.7,376.1 1542.4,384.0 1544.2,381.5 1545.9,393.3 1547.6,386.9 1549.3,332.4 1551.1,301.1 1552.8,414.1 1554.5,337.8 1556.3,314.9 1558.0,401.1 1559.7,418.1 1561.4,401.0 1563.2,333.8 1564.9,342.7 1566.6,332.4 1568.4,299.0 1570.1,312.1 1571.8,391.7 1573.5,391.6 1575.3,351.6 1577.0,354.5 1578.7,374.0 1580.5,396.1 1582.2,422.9 1583.9,402.4 1585.6,353.2 1587.4,362.1 1589.1,378.9 1590.8,340.4 1592.6,320.1 1594.3,401.7 1596.0,389.4 1597.7,388.3 1599.5,346.1 1601.2,354.6 1602.9,343.8 1604.6,340.0 1606.4,341.7 1608.1,357.8 1609.8,374.6 1611.6,386.5 1613.3,378.4 1615.0,393.2 1616.7,411.0 1618.5,397.6 1620.2,345.3 1621.9,350.8 1623.7,386.7 1625.4,358.6 1627.1,368.0 1628.8,367.3 1630.6,331.6 1632.3,319.1 1634.0,384.4 1635.8,404.5 1637.5,380.0 1639.2,374.0 1640.9,348.7 1642.7,345.1 1644.4,331.6 1646.1,311.7 1647.9,331.3 1649.6,377.2 1651.3,373.8 1653.0,344.0 1654.8,332.6 1656.5,332.5 1658.2,342.5 1659.9,385.8 1661.7,402.5 1663.4,382.1 1665.1,340.2 1666.9,334.6 1668.6,325.4 1670.3,318.8 1672.0,334.7 1673.8,392.4 1675.5,405.4 1677.2,375.3 1679.0,362.8 1680.7,372.7 1682.4,306.5 1684.1,288.2 1685.9,361.1 1687.6,371.0 1689.3,321.4 1691.1,297.4 1692.8,308.0 1694.5,362.1 1696.2,363.9 1698.0,385.5 1699.7,330.5 1701.4,318.8 1703.2,329.1 1704.9,377.6 1706.6,398.5 1708.3,374.6 1710.1,346.5 1711.8,335.6 1713.5,349.7 1715.3,413.5 1717.0,428.1 1718.7,411.4 1720.4,393.2 1722.2,389.6 1723.9,377.8 1725.6,375.6 1727.3,336.1 1729.1,333.5 1730.8,310.6 1732.5,326.3 1734.3,382.5 1736.0,361.4 1737.7,341.0 1739.4,360.0 1741.2,345.7 1742.9,373.4 1744.6,389.5 1746.4,378.9 1748.1,377.5 1749.8,333.5 1751.5,371.8 1753.3,328.8 1755.0,303.4 1756.7,426.9 1758.5,344.7 1760.2,336.4 1761.9,340.7 1763.6,377.9 1765.4,387.6 1767.1,371.0 1768.8,331.9 1770.6,326.4 1772.3,379.4 1774.0,330.7 1775.7,304.9 1777.5,319.6 1779.2,365.3 1780.9,338.6 1782.6,323.6 1784.4,370.2 1786.1,383.2 1787.8,369.3 1789.6,363.6 1791.3,330.5 1793.0,322.7 1794.7,341.0 1796.5,306.8 1798.2,289.1 1799.9,408.1 1801.7,323.1 1803.4,313.7 1805.1,327.7 1806.8,333.8 1808.6,332.0 1810.3,320.9 1812.0,325.7 1813.8,326.4 1815.5,323.5 1817.2,325.6 1818.9,336.8 1820.7,338.2 1822.4,341.9 1824.1,339.0 1825.9,335.6 1827.6,382.7 1829.3,393.6 1831.0,393.8 1832.8,380.7 1834.5,340.9 1836.2,332.3 1838.0,340.3 1839.7,374.4 1841.4,394.0 1843.1,402.9 1844.9,407.5 1846.6,389.3 1848.3,385.4 1850.0,331.9 1851.8,366.4 1853.5,388.9 1855.2,376.3 1857.0,378.7 1858.7,321.0 1860.4,298.7 1862.1,312.8 1863.9,366.7 1865.6,340.6 1867.3,369.0 1869.1,380.6 1870.8,376.0 1872.5,370.2 1874.2,384.8 1876.0,400.9 1877.7,387.9 1879.4,373.0 1881.2,310.0 1882.9,283.0 1884.6,403.1 1886.3,390.3 1888.1,337.0 1889.8,360.1 1891.5,353.9 1893.3,320.7 1895.0,304.1 1896.7,313.6 1898.4,353.0 1900.2,336.7 1901.9,354.5 1903.6,331.6 1905.4,376.7 1907.1,381.2 1908.8,365.3 1910.5,355.2 1912.3,369.8 1914.0,358.6 1915.7,349.4 1917.4,341.6 1919.2,328.6 1920.9,311.4 1922.6,320.6 1924.4,391.5 1926.1,401.2 1927.8,385.7 1929.5,337.9 1931.3,326.0 1933.0,335.4 1934.7,333.2 1936.5,374.2 1938.2,338.3 1939.9,357.7 1941.6,368.0 1943.4,325.8 1945.1,301.2 1946.8,328.3 1948.6,321.0 1950.3,324.7 1952.0,370.3 1953.7,368.0 1955.5,381.5 1957.2,374.3 1958.9,335.3 1960.7,372.1 1962.4,362.6 1964.1,316.0 1965.8,309.1 1967.6,379.3 1969.3,392.2 1971.0,386.3 1972.7,342.1 1974.5,366.8 1976.2,328.1 1977.9,332.2 1979.7,309.9 1981.4,320.2 1983.1,337.4 1984.8,354.2 1986.6,369.5 1988.3,325.1 1990.0,377.5 1991.8,335.7 1993.5,363.2 1995.2,329.2 1996.9,370.6 1998.7,399.1 2000.4,321.4 2002.1,310.1 2003.9,318.4 2005.6,306.4 2007.3,312.6 2009.0,314.4 2010.8,368.9 2012.5,396.7 2014.2,360.0 2016.0,312.7 2017.7,317.6 2019.4,289.3 2021.1,277.7 2022.9,296.1 2024.6,297.3 2026.3,311.2 2028.1,313.2 2029.8,340.5" fill="none" stroke="#e16462" stroke-width="3.48" stroke-linejoin="round" stroke-linecap="square"/>
<polyline clip-path="url(#c01)" points="1250.4,356.1 1252.1,337.1 1253.8,351.6 1255.6,344.9 1257.3,343.7 1259.0,339.2 1260.7,352.8 1262.5,333.4 1264.2,334.7 1265.9,334.0 1267.7,330.1 1269.4,345.2 1271.1,365.3 1272.8,341.9 1274.6,330.9 1276.3,330.4 1278.0,343.2 1279.7,341.8 1281.5,338.7 1283.2,354.2 1284.9,347.8 1286.7,346.6 1288.4,329.5 1290.1,344.0 1291.8,329.2 1293.6,338.8 1295.3,353.2 1297.0,325.6 1298.8,345.8 1300.5,336.7 1302.2,327.0 1303.9,342.7 1305.7,350.3 1307.4,334.1 1309.1,339.1 1310.9,349.8 1312.6,350.2 1314.3,345.0 1316.0,333.9 1317.8,341.8 1319.5,335.8 1321.2,327.3 1323.0,328.9 1324.7,327.9 1326.4,329.3 1328.1,351.2 1329.9,332.9 1331.6,337.0 1333.3,341.0 1335.1,348.9 1336.8,354.0 1338.5,351.1 1340.2,342.4 1342.0,349.8 1343.7,348.2 1345.4,346.5 1347.1,336.4 1348.9,342.2 1350.6,342.0 1352.3,330.7 1354.1,341.6 1355.8,336.2 1357.5,348.0 1359.2,339.2 1361.0,339.5 1362.7,339.1 1364.4,343.9 1366.2,349.0 1367.9,344.2 1369.6,344.7 1371.3,333.4 1373.1,332.6 1374.8,348.6 1376.5,337.0 1378.3,343.7 1380.0,337.6 1381.7,343.8 1383.4,352.3 1385.2,334.6 1386.9,336.3 1388.6,349.3 1390.4,356.3 1392.1,347.1 1393.8,350.6 1395.5,344.9 1397.3,336.5 1399.0,328.8 1400.7,341.6 1402.5,330.3 1404.2,330.2 1405.9,342.4 1407.6,353.6 1409.4,336.1 1411.1,335.3 1412.8,321.9 1414.5,326.9 1416.3,332.6 1418.0,326.5 1419.7,346.5 1421.5,340.0 1423.2,342.6 1424.9,327.6 1426.6,334.3 1428.4,363.0 1430.1,333.5 1431.8,346.4 1433.6,335.5 1435.3,343.4 1437.0,339.1 1438.7,335.5 1440.5,338.3 1442.2,347.5 1443.9,330.9 1445.7,336.0 1447.4,340.0 1449.1,335.0 1450.8,343.7 1452.6,326.6 1454.3,336.7 1456.0,337.1 1457.8,337.3 1459.5,347.0 1461.2,350.4 1462.9,340.3 1464.7,337.7 1466.4,329.8 1468.1,335.4 1469.8,348.0 1471.6,337.6 1473.3,333.7 1475.0,331.8 1476.8,336.6 1478.5,349.2 1480.2,332.9 1481.9,344.9 1483.7,336.7 1485.4,351.9 1487.1,336.3 1488.9,345.8 1490.6,333.0 1492.3,325.9 1494.0,329.3 1495.8,347.7 1497.5,348.7 1499.2,348.3 1501.0,336.6 1502.7,337.2 1504.4,338.8 1506.1,337.8 1507.9,335.7 1509.6,334.8 1511.3,326.7 1513.1,338.8 1514.8,338.7 1516.5,354.4 1518.2,352.7 1520.0,347.6 1521.7,350.6 1523.4,340.3 1525.2,332.5 1526.9,342.6 1528.6,344.5 1530.3,345.0 1532.1,340.2 1533.8,344.7 1535.5,337.9 1537.2,337.9 1539.0,337.5 1540.7,334.3 1542.4,339.4 1544.2,339.3 1545.9,327.0 1547.6,338.9 1549.3,334.3 1551.1,339.2 1552.8,343.9 1554.5,344.6 1556.3,347.5 1558.0,341.6 1559.7,345.4 1561.4,344.6 1563.2,331.9 1564.9,340.3 1566.6,331.9 1568.4,337.3 1570.1,333.6 1571.8,344.2 1573.5,340.1 1575.3,320.4 1577.0,331.3 1578.7,331.6 1580.5,337.5 1582.2,333.6 1583.9,348.5 1585.6,348.3 1587.4,338.5 1589.1,334.1 1590.8,342.8 1592.6,342.4 1594.3,343.7 1596.0,342.6 1597.7,350.1 1599.5,353.0 1601.2,343.2 1602.9,354.3 1604.6,350.2 1606.4,347.2 1608.1,349.7 1609.8,340.3 1611.6,344.1 1613.3,341.9 1615.0,348.6 1616.7,347.6 1618.5,337.9 1620.2,337.6 1621.9,343.9 1623.7,338.5 1625.4,339.0 1627.1,339.4 1628.8,328.5 1630.6,342.1 1632.3,337.8 1634.0,337.2 1635.8,342.1 1637.5,349.9 1639.2,337.0 1640.9,338.3 1642.7,340.1 1644.4,340.6 1646.1,340.7 1647.9,347.7 1649.6,339.7 1651.3,354.5 1653.0,343.2 1654.8,352.7 1656.5,345.4 1658.2,336.2 1659.9,342.3 1661.7,344.9 1663.4,337.7 1665.1,342.6 1666.9,344.4 1668.6,344.6 1670.3,330.1 1672.0,334.4 1673.8,336.4 1675.5,349.5 1677.2,337.6 1679.0,350.4 1680.7,338.9 1682.4,349.3 1684.1,327.5 1685.9,351.9 1687.6,333.4 1689.3,333.9 1691.1,353.6 1692.8,344.9 1694.5,330.7 1696.2,330.9 1698.0,352.3 1699.7,346.8 1701.4,351.0 1703.2,350.5 1704.9,347.5 1706.6,328.1 1708.3,338.2 1710.1,342.5 1711.8,343.9 1713.5,336.5 1715.3,335.2 1717.0,347.3 1718.7,330.9 1720.4,347.9 1722.2,344.3 1723.9,338.2 1725.6,327.7 1727.3,341.8 1729.1,339.1 1730.8,331.0 1732.5,334.9 1734.3,331.7 1736.0,331.9 1737.7,337.8 1739.4,335.9 1741.2,333.4 1742.9,340.2 1744.6,328.9 1746.4,354.5 1748.1,350.2 1749.8,331.5 1751.5,336.5 1753.3,345.4 1755.0,338.9 1756.7,332.6 1758.5,344.2 1760.2,335.8 1761.9,341.3 1763.6,342.1 1765.4,341.9 1767.1,332.8 1768.8,348.5 1770.6,345.1 1772.3,336.7 1774.0,349.8 1775.7,354.5 1777.5,338.9 1779.2,340.8 1780.9,342.3 1782.6,340.3 1784.4,348.5 1786.1,320.1 1787.8,345.5 1789.6,345.2 1791.3,352.6 1793.0,346.1 1794.7,330.3 1796.5,339.4 1798.2,336.4 1799.9,344.2 1801.7,327.8 1803.4,337.9 1805.1,350.2 1806.8,336.7 1808.6,343.3 1810.3,336.9 1812.0,339.5 1813.8,338.9 1815.5,339.8 1817.2,347.9 1818.9,353.6 1820.7,335.6 1822.4,341.4 1824.1,339.0 1825.9,344.4 1827.6,357.1 1829.3,353.3 1831.0,332.4 1832.8,345.9 1834.5,344.8 1836.2,352.9 1838.0,347.0 1839.7,344.9 1841.4,343.4 1843.1,342.1 1844.9,346.2 1846.6,346.3 1848.3,342.1 1850.0,338.9 1851.8,342.0 1853.5,328.0 1855.2,337.7 1857.0,339.5 1858.7,346.0 1860.4,334.1 1862.1,348.0 1863.9,354.6 1865.6,350.7 1867.3,337.9 1869.1,349.5 1870.8,332.6 1872.5,340.1 1874.2,352.6 1876.0,344.7 1877.7,328.2 1879.4,345.8 1881.2,351.9 1882.9,338.9 1884.6,330.9 1886.3,332.0 1888.1,342.4 1889.8,340.0 1891.5,338.6 1893.3,331.9 1895.0,323.5 1896.7,339.4 1898.4,331.1 1900.2,342.4 1901.9,336.9 1903.6,347.7 1905.4,348.1 1907.1,339.1 1908.8,347.8 1910.5,335.5 1912.3,344.6 1914.0,341.2 1915.7,341.9 1917.4,343.9 1919.2,340.7 1920.9,332.9 1922.6,316.3 1924.4,346.6 1926.1,339.8 1927.8,342.4 1929.5,348.4 1931.3,340.1 1933.0,347.8 1934.7,342.8 1936.5,332.0 1938.2,355.3 1939.9,341.5 1941.6,337.9 1943.4,348.1 1945.1,338.3 1946.8,338.1 1948.6,343.5 1950.3,332.3 1952.0,349.9 1953.7,337.7 1955.5,342.5 1957.2,349.5 1958.9,343.9 1960.7,344.3 1962.4,335.5 1964.1,351.8 1965.8,344.3 1967.6,345.2 1969.3,329.9 1971.0,348.1 1972.7,334.2 1974.5,353.6 1976.2,340.5 1977.9,342.2 1979.7,338.5 1981.4,346.2 1983.1,356.9 1984.8,355.4 1986.6,333.4 1988.3,338.5 1990.0,347.5 1991.8,335.4 1993.5,346.1 1995.2,347.7 1996.9,351.6 1998.7,333.9 2000.4,325.3 2002.1,346.3 2003.9,339.9 2005.6,333.7 2007.3,324.1 2009.0,357.1 2010.8,342.7 2012.5,336.7 2014.2,352.0 2016.0,339.9 2017.7,339.7 2019.4,335.7 2021.1,345.0 2022.9,338.8 2024.6,345.7 2026.3,337.5 2028.1,339.7 2029.8,344.1" fill="none" stroke="#fca636" stroke-width="3.48" stroke-linejoin="round" stroke-linecap="square"/>
<path d="M1211.40 345.84H2068.75" stroke="#000" stroke-width="3.48" stroke-dasharray="12.88 5.57" fill="none"/>
<rect x="1381.80" y="498.30" width="517.40" height="152.20" rx="6.5" ry="6.5" fill="#fff" fill-opacity="0.8" stroke="#cccccc" stroke-opacity="0.8" stroke-width="2.33"/>
<path d="M1394.35 524.20H1459.75" stroke="#b12a90" stroke-width="3.48" stroke-linecap="square"/>
<text x="1484.80" y="535.90" font-size="32.67">(1)-(2), RMS = 0.009 rad</text>
<path d="M1394.35 572.05H1459.75" stroke="#e16462" stroke-width="3.48" stroke-linecap="square"/>
<text x="1484.80" y="583.40" font-size="32.67">(1)-(3), RMS = 0.007 rad</text>
<path d="M1394.35 619.90H1459.75" stroke="#fca636" stroke-width="3.48" stroke-linecap="square"/>
<text x="1484.80" y="631.10" font-size="32.67">(2)-(3), RMS = 0.003 rad</text>
<rect x="1211.40" y="105.00" width="857.35" height="561.95" fill="none" stroke="#000" stroke-width="1.867" stroke-linejoin="miter" stroke-linecap="square"/>
<path d="M1211.40 105.00h-8.17M1211.40 185.28h-8.17M1211.40 265.56h-8.17M1211.40 345.84h-8.17M1211.40 426.11h-8.17M1211.40 506.39h-8.17M1211.40 586.67h-8.17M1211.40 666.95h-8.17M1250.37 666.95v8.17M1423.19 666.95v8.17M1596.01 666.95v8.17M1768.82 666.95v8.17M1941.64 666.95v8.17" stroke="#000" stroke-width="1.867" fill="none"/>
<text x="1195.35" y="115.60" font-size="28.0" text-anchor="end">0.06</text>
<text x="1195.35" y="195.88" font-size="28.0" text-anchor="end">0.04</text>
<text x="1195.35" y="276.16" font-size="28.0" text-anchor="end">0.02</text>
<text x="1195.35" y="356.44" font-size="28.0" text-anchor="end">0.00</text>
<text x="1195.35" y="436.71" font-size="28.0" text-anchor="end">−0.02</text>
<text x="1195.35" y="516.99" font-size="28.0" text-anchor="end">−0.04</text>
<text x="1195.35" y="597.27" font-size="28.0" text-anchor="end">−0.06</text>
<text x="1195.35" y="677.55" font-size="28.0" text-anchor="end">−0.08</text>
<text x="1250.37" y="704.50" font-size="28.0" text-anchor="middle">0</text>
<text x="1423.19" y="704.50" font-size="28.0" text-anchor="middle">100</text>
<text x="1596.01" y="704.50" font-size="28.0" text-anchor="middle">200</text>
<text x="1768.82" y="704.50" font-size="28.0" text-anchor="middle">300</text>
<text x="1941.64" y="704.50" font-size="28.0" text-anchor="middle">400</text>
<text x="1640.07" y="743.80" font-size="32.67" text-anchor="middle">Index</text>
<text transform="translate(1093.05,387.48) rotate(-90)" font-size="32.8" text-anchor="middle">Kernel phase residual [rad]</text>
<clipPath id="c10"><rect x="142.35" y="911.50" width="857.35" height="561.95"/></clipPath>
<path d="M142.35 991.78H999.70M142.35 1072.06H999.70M142.35 1152.34H999.70M142.35 1232.61H999.70M142.35 1312.89H999.70M142.35 1393.17H999.70" stroke="#b0b0b0" stroke-width="1.867" fill="none"/>
<polyline clip-path="url(#c10)" points="181.3,1130.8 183.0,1169.1 184.8,1169.1 186.5,1147.8 188.2,1138.3 190.0,1136.1 191.7,1160.0 193.4,1157.7 195.1,1139.3 196.9,1137.4 198.6,1151.3 200.3,1133.6 202.1,1169.6 203.8,1218.7 205.5,1155.0 207.2,1149.1 209.0,1163.4 210.7,1184.4 212.4,1186.9 214.2,1164.6 215.9,1232.9 217.6,1186.3 219.3,1176.2 221.1,1180.1 222.8,1184.0 224.5,1168.8 226.3,1135.0 228.0,1131.9 229.7,1197.4 231.4,1143.7 233.2,1157.3 234.9,1119.4 236.6,1132.6 238.4,1137.7 240.1,1188.4 241.8,1216.6 243.5,1165.1 245.3,1174.2 247.0,1188.4 248.7,1192.5 250.4,1162.3 252.2,1132.2 253.9,1224.4 255.6,1136.4 257.4,1139.7 259.1,1193.9 260.8,1205.2 262.5,1138.7 264.3,1124.6 266.0,1123.5 267.7,1122.4 269.5,1124.3 271.2,1159.0 272.9,1122.9 274.6,1118.0 276.4,1191.8 278.1,1142.6 279.8,1193.7 281.6,1198.9 283.3,1155.9 285.0,1129.4 286.7,1140.2 288.5,1190.3 290.2,1140.2 291.9,1180.6 293.7,1218.0 295.4,1163.7 297.1,1191.8 298.8,1208.1 300.6,1178.3 302.3,1166.2 304.0,1187.5 305.7,1107.6 307.5,1099.6 309.2,1178.1 310.9,1112.8 312.7,1119.4 314.4,1135.2 316.1,1122.6 317.8,1131.5 319.6,1163.9 321.3,1177.2 323.0,1176.2 324.8,1125.1 326.5,1193.0 328.2,1206.0 329.9,1123.3 331.7,1140.2 333.4,1122.1 335.1,1190.3 336.9,1188.1 338.6,1160.8 340.3,1186.2 342.0,1175.5 343.8,1163.1 345.5,1120.2 347.2,1112.3 349.0,1179.4 350.7,1169.5 352.4,1113.0 354.1,1115.7 355.9,1142.3 357.6,1147.8 359.3,1171.2 361.1,1126.5 362.8,1128.0 364.5,1124.3 366.2,1200.3 368.0,1191.7 369.7,1177.7 371.4,1138.9 373.1,1145.8 374.9,1154.3 376.6,1167.6 378.3,1206.7 380.1,1155.5 381.8,1113.1 383.5,1112.0 385.2,1110.9 387.0,1158.6 388.7,1198.9 390.4,1196.0 392.2,1106.7 393.9,1105.2 395.6,1176.2 397.3,1115.6 399.1,1159.2 400.8,1171.9 402.5,1120.4 404.3,1134.0 406.0,1126.5 407.7,1184.7 409.4,1159.0 411.2,1177.1 412.9,1173.3 414.6,1149.1 416.4,1117.6 418.1,1131.2 419.8,1110.9 421.5,1138.7 423.3,1113.8 425.0,1115.2 426.7,1116.6 428.5,1152.7 430.2,1119.4 431.9,1138.6 433.6,1163.3 435.4,1127.0 437.1,1176.9 438.8,1142.1 440.5,1127.9 442.3,1181.1 444.0,1225.8 445.7,1144.8 447.5,1133.6 449.2,1175.0 450.9,1136.4 452.6,1176.4 454.4,1125.1 456.1,1180.4 457.8,1113.8 459.6,1108.1 461.3,1139.8 463.0,1120.8 464.7,1152.2 466.5,1176.2 468.2,1117.4 469.9,1130.9 471.7,1141.0 473.4,1152.9 475.1,1192.0 476.8,1157.6 478.6,1212.3 480.3,1126.6 482.0,1108.1 483.8,1187.5 485.5,1130.0 487.2,1129.0 488.9,1126.6 490.7,1196.0 492.4,1112.3 494.1,1113.0 495.8,1147.8 497.6,1118.8 499.3,1115.2 501.0,1194.6 502.8,1122.3 504.5,1167.1 506.2,1177.2 507.9,1138.3 509.7,1164.7 511.4,1193.2 513.1,1193.7 514.9,1115.3 516.6,1181.0 518.3,1195.3 520.0,1164.6 521.8,1093.9 523.5,1193.7 525.2,1193.2 527.0,1125.1 528.7,1191.5 530.4,1179.8 532.1,1171.2 533.9,1136.0 535.6,1127.9 537.3,1136.7 539.1,1182.1 540.8,1205.0 542.5,1167.6 544.2,1166.1 546.0,1208.9 547.7,1210.2 549.4,1143.5 551.2,1148.3 552.9,1202.4 554.6,1130.3 556.3,1157.5 558.1,1179.7 559.8,1140.4 561.5,1135.7 563.2,1108.1 565.0,1170.5 566.7,1131.9 568.4,1161.4 570.2,1141.3 571.9,1160.7 573.6,1157.9 575.3,1166.2 577.1,1113.8 578.8,1118.5 580.5,1123.2 582.3,1186.5 584.0,1132.7 585.7,1137.4 587.4,1142.1 589.2,1231.5 590.9,1136.2 592.6,1160.1 594.4,1183.3 596.1,1187.1 597.8,1124.3 599.5,1121.3 601.3,1118.3 603.0,1115.3 604.7,1112.3 606.5,1112.3 608.2,1213.8 609.9,1213.0 611.6,1166.2 613.4,1129.9 615.1,1080.4 616.8,1141.9 618.5,1173.3 620.3,1188.7 622.0,1121.8 623.7,1132.2 625.5,1147.6 627.2,1206.7 628.9,1188.4 630.6,1197.6 632.4,1148.8 634.1,1178.8 635.8,1164.9 637.6,1193.2 639.3,1197.2 641.0,1165.5 642.7,1167.2 644.5,1135.0 646.2,1205.0 647.9,1217.3 649.7,1202.8 651.4,1194.6 653.1,1183.3 654.8,1144.3 656.6,1174.2 658.3,1125.4 660.0,1155.1 661.8,1195.0 663.5,1197.3 665.2,1143.6 666.9,1113.8 668.7,1142.1 670.4,1170.0 672.1,1136.3 673.9,1170.2 675.6,1213.8 677.3,1182.2 679.0,1137.3 680.8,1140.7 682.5,1201.7 684.2,1193.2 685.9,1189.1 687.7,1227.2 689.4,1167.7 691.1,1159.1 692.9,1217.3 694.6,1206.9 696.3,1176.2 698.0,1204.5 699.8,1116.6 701.5,1141.8 703.2,1177.4 705.0,1168.5 706.7,1131.8 708.4,1148.5 710.1,1115.2 711.9,1181.8 713.6,1126.3 715.3,1183.4 717.1,1148.4 718.8,1124.8 720.5,1198.1 722.2,1157.7 724.0,1130.6 725.7,1183.3 727.4,1179.3 729.2,1136.4 730.9,1228.6 732.6,1154.5 734.3,1184.6 736.1,1167.7 737.8,1175.5 739.5,1183.3 741.3,1152.4 743.0,1121.6 744.7,1184.8 746.4,1195.3 748.2,1157.8 749.9,1148.7 751.6,1137.7 753.3,1166.5 755.1,1144.9 756.8,1201.0 758.5,1183.9 760.3,1183.4 762.0,1209.3 763.7,1156.0 765.4,1217.1 767.2,1130.3 768.9,1177.3 770.6,1173.9 772.4,1240.0 774.1,1199.9 775.8,1133.1 777.5,1146.0 779.3,1134.3 781.0,1196.0 782.7,1172.6 784.5,1158.0 786.2,1124.4 787.9,1163.5 789.6,1139.6 791.4,1116.9 793.1,1114.5 794.8,1114.8 796.6,1167.2 798.3,1192.5 800.0,1192.9 801.7,1154.2 803.5,1123.3 805.2,1152.0 806.9,1176.2 808.6,1176.8 810.4,1102.4 812.1,1102.7 813.8,1127.0 815.6,1223.7 817.3,1224.4 819.0,1230.0 820.7,1230.1 822.5,1125.1 824.2,1125.2 825.9,1088.2 827.7,1089.0 829.4,1145.6 831.1,1149.2 832.8,1135.7 834.6,1141.5 836.3,1137.0 838.0,1184.1 839.8,1145.0 841.5,1147.9 843.2,1125.4 844.9,1129.0 846.7,1130.3 848.4,1133.8 850.1,1208.3 851.9,1111.5 853.6,1124.2 855.3,1144.1 857.0,1236.5 858.8,1167.0 860.5,1165.3 862.2,1183.3 864.0,1166.8 865.7,1184.6 867.4,1114.2 869.1,1164.1 870.9,1114.8 872.6,1136.8 874.3,1131.0 876.0,1111.5 877.8,1123.5 879.5,1123.6 881.2,1190.5 883.0,1157.9 884.7,1151.6 886.4,1180.0 888.1,1152.3 889.9,1158.6 891.6,1129.2 893.3,1159.3 895.1,1141.5 896.8,1135.0 898.5,1166.3 900.2,1138.9 902.0,1162.3 903.7,1141.4 905.4,1143.4 907.2,1162.0 908.9,1111.5 910.6,1135.6 912.3,1147.3 914.1,1130.7 915.8,1161.5 917.5,1146.3 919.3,1137.2 921.0,1161.7 922.7,1156.3 924.4,1205.8 926.2,1198.0 927.9,1195.8 929.6,1225.2 931.4,1185.6 933.1,1129.3 934.8,1208.0 936.5,1129.6 938.3,1129.3 940.0,1190.9 941.7,1152.4 943.4,1149.3 945.2,1145.7 946.9,1105.6 948.6,1162.3 950.4,1113.5 952.1,1047.1 953.8,1060.4 955.5,1148.6 957.3,1127.7 959.0,1100.3 960.7,1139.3" fill="none" stroke="#b12a90" stroke-width="3.48" stroke-linejoin="round" stroke-linecap="square"/>
<polyline clip-path="url(#c10)" points="181.3,1104.8 183.0,1146.9 184.8,1160.5 186.5,1114.4 188.2,1161.6 190.0,1119.6 191.7,1152.4 193.4,1190.5 195.1,1133.1 196.9,1128.4 198.6,1121.6 200.3,1134.4 202.1,1148.6 203.8,1204.2 205.5,1124.1 207.2,1106.0 209.0,1173.0 210.7,1152.7 212.4,1153.4 214.2,1080.8 215.9,1196.8 217.6,1178.2 219.3,1125.7 221.1,1125.3 222.8,1161.3 224.5,1138.0 226.3,1181.1 228.0,1140.5 229.7,1216.7 231.4,1159.6 233.2,1192.6 234.9,1183.6 236.6,1143.7 238.4,1112.5 240.1,1165.3 241.8,1175.6 243.5,1122.3 245.3,1104.6 247.0,1158.8 248.7,1124.1 250.4,1116.2 252.2,1175.6 253.9,1195.8 255.6,1105.3 257.4,1164.0 259.1,1165.9 260.8,1190.6 262.5,1118.3 264.3,1122.9 266.0,1121.1 267.7,1123.7 269.5,1133.9 271.2,1179.7 272.9,1138.5 274.6,1129.1 276.4,1127.4 278.1,1124.5 279.8,1164.0 281.6,1124.6 283.3,1114.1 285.0,1140.0 286.7,1100.1 288.5,1165.8 290.2,1160.6 291.9,1191.0 293.7,1171.3 295.4,1122.6 297.1,1166.3 298.8,1139.2 300.6,1152.4 302.3,1173.3 304.0,1143.1 305.7,1141.1 307.5,1129.6 309.2,1132.7 310.9,1119.8 312.7,1125.1 314.4,1151.0 316.1,1124.7 317.8,1122.9 319.6,1134.0 321.3,1159.7 323.0,1150.3 324.8,1118.0 326.5,1148.5 328.2,1124.6 329.9,1121.9 331.7,1174.7 333.4,1126.7 335.1,1117.8 336.9,1153.8 338.6,1143.7 340.3,1191.9 342.0,1149.0 343.8,1166.5 345.5,1137.5 347.2,1126.8 349.0,1178.6 350.7,1153.2 352.4,1137.0 354.1,1124.3 355.9,1145.1 357.6,1106.2 359.3,1156.7 361.1,1087.8 362.8,1105.2 364.5,1098.2 366.2,1164.7 368.0,1155.0 369.7,1142.7 371.4,1130.4 373.1,1102.9 374.9,1126.0 376.6,1122.3 378.3,1183.7 380.1,1127.6 381.8,1119.5 383.5,1138.3 385.2,1129.7 387.0,1139.3 388.7,1191.6 390.4,1177.4 392.2,1125.1 393.9,1121.2 395.6,1145.7 397.3,1128.4 399.1,1173.9 400.8,1117.7 402.5,1105.6 404.3,1141.8 406.0,1121.7 407.7,1067.3 409.4,1141.8 411.2,1161.4 412.9,1123.5 414.6,1133.1 416.4,1102.4 418.1,1164.8 419.8,1138.4 421.5,1122.6 423.3,1132.0 425.0,1145.2 426.7,1117.8 428.5,1183.8 430.2,1124.5 431.9,1165.8 433.6,1160.0 435.4,1102.5 437.1,1132.5 438.8,1163.5 440.5,1143.0 442.3,1144.9 444.0,1132.0 445.7,1141.0 447.5,1120.2 449.2,1146.4 450.9,1147.0 452.6,1152.8 454.4,1095.1 456.1,1165.7 457.8,1122.4 459.6,1150.6 461.3,1130.7 463.0,1123.9 464.7,1170.9 466.5,1187.4 468.2,1135.0 469.9,1142.0 471.7,1153.6 473.4,1124.8 475.1,1157.6 476.8,1123.5 478.6,1171.4 480.3,1132.8 482.0,1118.2 483.8,1114.6 485.5,1125.6 487.2,1114.1 488.9,1088.0 490.7,1154.9 492.4,1114.7 494.1,1121.0 495.8,1155.1 497.6,1136.2 499.3,1159.9 501.0,1174.7 502.8,1142.2 504.5,1136.8 506.2,1174.3 507.9,1145.9 509.7,1163.9 511.4,1129.1 513.1,1163.3 514.9,1133.9 516.6,1162.1 518.3,1171.5 520.0,1157.0 521.8,1127.8 523.5,1167.1 525.2,1112.6 527.0,1083.5 528.7,1165.2 530.4,1156.6 532.1,1138.0 533.9,1135.8 535.6,1141.5 537.3,1140.7 539.1,1166.1 540.8,1204.6 542.5,1138.0 544.2,1144.4 546.0,1197.1 547.7,1169.8 549.4,1139.1 551.2,1154.2 552.9,1176.1 554.6,1131.4 556.3,1125.8 558.1,1136.8 559.8,1148.4 561.5,1147.9 563.2,1131.2 565.0,1173.5 566.7,1088.9 568.4,1138.8 570.2,1087.6 571.9,1140.0 573.6,1121.4 575.3,1129.6 577.1,1132.7 578.8,1102.5 580.5,1135.0 582.3,1214.7 584.0,1109.4 585.7,1100.4 587.4,1190.5 589.2,1223.1 590.9,1122.0 592.6,1126.8 594.4,1167.3 596.1,1172.5 597.8,1093.5 599.5,1110.3 601.3,1128.0 603.0,1112.1 604.7,1171.9 606.5,1172.4 608.2,1102.5 609.9,1100.1 611.6,1132.1 613.4,1153.0 615.1,1115.0 616.8,1141.6 618.5,1148.3 620.3,1202.1 622.0,1152.3 623.7,1139.7 625.5,1178.7 627.2,1130.3 628.9,1177.0 630.6,1218.5 632.4,1144.5 634.1,1187.9 635.8,1141.1 637.6,1149.9 639.3,1183.7 641.0,1145.5 642.7,1171.0 644.5,1165.5 646.2,1168.1 647.9,1176.4 649.7,1170.6 651.4,1167.5 653.1,1156.8 654.8,1116.5 656.6,1154.2 658.3,1125.4 660.0,1179.9 661.8,1205.7 663.5,1184.4 665.2,1161.0 666.9,1138.3 668.7,1174.2 670.4,1178.2 672.1,1147.5 673.9,1157.0 675.6,1194.6 677.3,1168.8 679.0,1147.6 680.8,1162.7 682.5,1198.6 684.2,1178.1 685.9,1158.0 687.7,1175.4 689.4,1158.8 691.1,1144.3 692.9,1206.7 694.6,1186.9 696.3,1156.8 698.0,1171.4 699.8,1139.4 701.5,1147.2 703.2,1174.3 705.0,1183.8 706.7,1161.1 708.4,1178.8 710.1,1119.6 711.9,1141.9 713.6,1144.3 715.3,1209.1 717.1,1143.0 718.8,1112.4 720.5,1214.6 722.2,1157.8 724.0,1119.9 725.7,1181.0 727.4,1202.0 729.2,1131.0 730.9,1163.0 732.6,1132.8 734.3,1182.3 736.1,1118.4 737.8,1136.8 739.5,1182.4 741.3,1161.9 743.0,1118.9 744.7,1167.6 746.4,1146.2 748.2,1185.1 749.9,1154.7 751.6,1152.7 753.3,1156.3 755.1,1150.4 756.8,1171.1 758.5,1149.1 760.3,1137.6 762.0,1187.1 763.7,1158.6 765.4,1226.3 767.2,1134.0 768.9,1162.5 770.6,1148.3 772.4,1224.1 774.1,1157.4 775.8,1129.2 777.5,1158.6 779.3,1172.5 781.0,1178.1 782.7,1155.9 784.5,1143.7 786.2,1132.3 787.9,1161.0 789.6,1161.6 791.4,1138.2 793.1,1161.7 794.8,1137.8 796.6,1148.2 798.3,1135.7 800.0,1160.7 801.7,1178.3 803.5,1179.8 805.2,1127.2 806.9,1126.4 808.6,1143.7 810.4,1122.2 812.1,1133.3 813.8,1175.3 815.6,1201.5 817.3,1198.7 819.0,1155.0 820.7,1127.8 822.5,1127.1 824.2,1172.4 825.9,1177.1 827.7,1130.8 829.4,1168.4 831.1,1177.3 832.8,1169.3 834.6,1144.5 836.3,1136.4 838.0,1150.8 839.8,1131.4 841.5,1176.1 843.2,1171.4 844.9,1145.0 846.7,1143.5 848.4,1108.9 850.1,1184.1 851.9,1150.6 853.6,1130.2 855.3,1133.1 857.0,1221.9 858.8,1150.0 860.5,1132.7 862.2,1179.6 864.0,1155.5 865.7,1179.4 867.4,1147.3 869.1,1148.2 870.9,1153.4 872.6,1133.4 874.3,1155.0 876.0,1136.8 877.8,1146.6 879.5,1133.4 881.2,1187.2 883.0,1147.5 884.7,1166.0 886.4,1165.5 888.1,1130.0 889.9,1165.0 891.6,1115.8 893.3,1173.0 895.1,1157.7 896.8,1145.3 898.5,1163.3 900.2,1123.0 902.0,1160.6 903.7,1129.2 905.4,1117.9 907.2,1187.9 908.9,1127.5 910.6,1178.4 912.3,1142.8 914.1,1111.3 915.8,1154.5 917.5,1163.4 919.3,1147.0 921.0,1169.9 922.7,1134.5 924.4,1149.7 926.2,1177.3 927.9,1163.9 929.6,1144.8 931.4,1151.7 933.1,1137.8 934.8,1230.7 936.5,1133.1 938.3,1177.3 940.0,1198.9 941.7,1125.0 943.4,1108.7 945.2,1132.3 946.9,1092.8 948.6,1140.4 950.4,1156.6 952.1,1132.6 953.8,1093.3 955.5,1148.7 957.3,1121.1 959.0,1111.5 960.7,1163.4" fill="none" stroke="#e16462" stroke-width="3.48" stroke-linejoin="round" stroke-linecap="square"/>
<polyline clip-path="url(#c10)" points="181.3,1105.2 183.0,1146.6 184.8,1156.3 186.5,1116.6 188.2,1159.9 190.0,1119.4 191.7,1149.7 193.4,1187.5 195.1,1135.3 196.9,1129.9 198.6,1122.1 200.3,1133.6 202.1,1146.7 203.8,1200.3 205.5,1122.9 207.2,1107.7 209.0,1173.3 210.7,1152.4 212.4,1153.1 214.2,1084.0 215.9,1195.3 217.6,1177.6 219.3,1129.3 221.1,1125.8 222.8,1159.1 224.5,1137.9 226.3,1177.5 228.0,1141.0 229.7,1212.3 231.4,1157.8 233.2,1190.2 234.9,1183.3 236.6,1145.3 238.4,1113.8 240.1,1164.6 241.8,1174.7 243.5,1125.0 245.3,1106.7 247.0,1156.3 248.7,1125.9 250.4,1116.6 252.2,1173.4 253.9,1192.5 255.6,1108.8 257.4,1162.0 259.1,1164.8 260.8,1187.5 262.5,1118.7 264.3,1125.1 266.0,1121.3 267.7,1125.3 269.5,1134.7 271.2,1174.7 272.9,1136.3 274.6,1125.1 276.4,1128.6 278.1,1125.9 279.8,1162.0 281.6,1124.8 283.3,1115.2 285.0,1139.2 286.7,1102.4 288.5,1164.4 290.2,1158.2 291.9,1190.3 293.7,1171.1 295.4,1123.0 297.1,1168.1 298.8,1143.0 300.6,1153.7 302.3,1173.3 304.0,1142.1 305.7,1140.7 307.5,1127.9 309.2,1132.6 310.9,1122.6 312.7,1125.4 314.4,1147.8 316.1,1127.9 317.8,1126.9 319.6,1136.7 321.3,1156.3 323.0,1151.0 324.8,1118.0 326.5,1147.8 328.2,1126.6 329.9,1125.3 331.7,1171.9 333.4,1127.1 335.1,1117.3 336.9,1153.1 338.6,1142.2 340.3,1188.2 342.0,1149.7 343.8,1164.8 345.5,1137.7 347.2,1127.9 349.0,1177.6 350.7,1154.5 352.4,1135.3 354.1,1122.5 355.9,1145.4 357.6,1109.1 359.3,1157.7 361.1,1091.8 362.8,1109.6 364.5,1101.0 366.2,1162.0 368.0,1155.4 369.7,1141.1 371.4,1129.6 373.1,1105.2 374.9,1126.1 376.6,1124.4 378.3,1180.4 380.1,1130.9 381.8,1118.8 383.5,1139.3 385.2,1129.4 387.0,1141.2 388.7,1187.5 390.4,1176.2 392.2,1120.8 393.9,1120.8 395.6,1147.5 397.3,1129.1 399.1,1171.9 400.8,1120.0 402.5,1110.9 404.3,1139.8 406.0,1122.3 407.7,1070.5 409.4,1142.5 411.2,1158.8 412.9,1121.7 414.6,1130.8 416.4,1105.2 418.1,1163.4 419.8,1139.5 421.5,1120.8 423.3,1130.8 425.0,1143.8 426.7,1120.1 428.5,1181.8 430.2,1125.0 431.9,1162.8 433.6,1159.0 435.4,1103.8 437.1,1134.2 438.8,1164.8 440.5,1143.0 442.3,1142.8 444.0,1136.1 445.7,1142.1 447.5,1122.3 449.2,1146.4 450.9,1147.0 452.6,1152.4 454.4,1098.2 456.1,1162.0 457.8,1122.5 459.6,1150.0 461.3,1131.5 463.0,1125.1 464.7,1169.8 466.5,1181.8 468.2,1133.6 469.9,1140.7 471.7,1152.8 473.4,1125.1 475.1,1159.4 476.8,1123.7 478.6,1169.1 480.3,1130.8 482.0,1122.2 483.8,1116.2 485.5,1126.3 487.2,1114.6 488.9,1091.1 490.7,1153.5 492.4,1118.0 494.1,1120.8 495.8,1153.6 497.6,1135.7 499.3,1159.8 501.0,1173.3 502.8,1143.7 504.5,1137.9 506.2,1173.3 507.9,1145.8 509.7,1164.1 511.4,1130.8 513.1,1162.8 514.9,1132.2 516.6,1160.5 518.3,1169.1 520.0,1153.9 521.8,1131.0 523.5,1168.2 525.2,1116.4 527.0,1088.2 528.7,1166.6 530.4,1153.7 532.1,1140.7 533.9,1133.6 535.6,1142.2 537.3,1141.4 539.1,1165.9 540.8,1202.4 542.5,1139.6 544.2,1143.5 546.0,1193.2 547.7,1167.2 549.4,1139.7 551.2,1153.2 552.9,1171.9 554.6,1133.6 556.3,1125.1 558.1,1136.3 559.8,1147.0 561.5,1146.6 563.2,1132.5 565.0,1170.5 566.7,1089.6 568.4,1137.9 570.2,1088.9 571.9,1137.6 573.6,1123.8 575.3,1131.9 577.1,1130.8 578.8,1106.8 580.5,1137.9 582.3,1208.1 584.0,1111.6 585.7,1102.1 587.4,1188.7 589.2,1213.8 590.9,1123.7 592.6,1126.9 594.4,1166.3 596.1,1171.9 597.8,1092.5 599.5,1112.0 601.3,1128.9 603.0,1114.8 604.7,1171.9 606.5,1171.9 608.2,1103.8 609.9,1103.8 611.6,1131.7 613.4,1153.8 615.1,1116.6 616.8,1141.6 618.5,1148.5 620.3,1196.7 622.0,1151.8 623.7,1138.6 625.5,1178.8 627.2,1133.6 628.9,1173.6 630.6,1211.6 632.4,1145.8 634.1,1185.4 635.8,1140.7 637.6,1154.0 639.3,1181.8 641.0,1145.0 642.7,1170.1 644.5,1165.8 646.2,1170.3 647.9,1176.2 649.7,1168.4 651.4,1166.6 653.1,1159.9 654.8,1116.6 656.6,1154.6 658.3,1129.4 660.0,1179.4 661.8,1203.1 663.5,1182.1 665.2,1161.5 666.9,1140.7 668.7,1174.1 670.4,1179.0 672.1,1148.9 673.9,1159.5 675.6,1193.2 677.3,1170.2 679.0,1148.3 680.8,1165.7 682.5,1198.9 684.2,1178.5 685.9,1157.0 687.7,1175.3 689.4,1154.9 691.1,1145.0 692.9,1204.5 694.6,1184.5 696.3,1157.5 698.0,1171.9 699.8,1143.5 701.5,1148.3 703.2,1171.3 705.0,1179.0 706.7,1161.0 708.4,1179.2 710.1,1123.7 711.9,1143.1 713.6,1144.4 715.3,1205.2 717.1,1143.6 718.8,1115.2 720.5,1212.3 722.2,1158.0 724.0,1125.1 725.7,1179.9 727.4,1200.3 729.2,1134.0 730.9,1164.1 732.6,1133.2 734.3,1178.5 736.1,1118.7 737.8,1138.5 739.5,1181.8 741.3,1162.3 743.0,1122.3 744.7,1169.2 746.4,1145.9 748.2,1187.5 749.9,1158.9 751.6,1154.4 753.3,1156.3 755.1,1151.4 756.8,1168.3 758.5,1149.9 760.3,1137.9 762.0,1185.6 763.7,1158.4 765.4,1225.8 767.2,1134.3 768.9,1163.0 770.6,1148.4 772.4,1223.0 774.1,1159.2 775.8,1128.6 777.5,1157.2 779.3,1172.2 781.0,1176.2 782.7,1157.0 784.5,1144.7 786.2,1132.2 787.9,1160.2 789.6,1162.0 791.4,1138.9 793.1,1161.5 794.8,1139.3 796.6,1148.4 798.3,1138.9 800.0,1158.5 801.7,1177.6 803.5,1177.6 805.2,1129.4 806.9,1129.3 808.6,1145.4 810.4,1125.1 812.1,1135.7 813.8,1175.0 815.6,1198.6 817.3,1197.4 819.0,1156.5 820.7,1130.8 822.5,1129.3 824.2,1171.9 825.9,1172.8 827.7,1130.9 829.4,1167.4 831.1,1177.6 832.8,1170.4 834.6,1145.4 836.3,1136.0 838.0,1151.8 839.8,1134.2 841.5,1176.0 843.2,1169.4 844.9,1144.1 846.7,1142.9 848.4,1109.9 850.1,1184.1 851.9,1151.3 853.6,1134.8 855.3,1136.7 857.0,1219.5 858.8,1149.1 860.5,1134.9 862.2,1178.9 864.0,1153.3 865.7,1176.0 867.4,1146.5 869.1,1150.5 870.9,1152.8 872.6,1132.5 874.3,1155.1 876.0,1138.7 877.8,1145.2 879.5,1137.4 881.2,1184.1 883.0,1149.3 884.7,1166.1 886.4,1163.6 888.1,1130.9 889.9,1164.2 891.6,1117.2 893.3,1172.8 895.1,1157.3 896.8,1142.9 898.5,1162.7 900.2,1122.8 902.0,1159.7 903.7,1130.7 905.4,1119.6 907.2,1187.3 908.9,1128.6 910.6,1176.0 912.3,1145.7 914.1,1114.8 915.8,1154.2 917.5,1162.8 919.3,1146.8 921.0,1169.1 922.7,1134.1 924.4,1152.5 926.2,1177.6 927.9,1159.8 929.6,1143.6 931.4,1151.5 933.1,1137.3 934.8,1222.8 936.5,1134.9 938.3,1173.7 940.0,1197.0 941.7,1126.9 943.4,1113.2 945.2,1131.8 946.9,1098.6 948.6,1138.8 950.4,1158.3 952.1,1135.1 953.8,1097.0 955.5,1147.0 957.3,1124.9 959.0,1114.8 960.7,1159.9" fill="none" stroke="#fca636" stroke-width="3.48" stroke-linejoin="round" stroke-linecap="square"/>
<path d="M142.35 1152.34H999.70" stroke="#000" stroke-width="3.48" stroke-dasharray="12.88 5.57" fill="none"/>
<rect x="160.30" y="1304.80" width="821.90" height="152.20" rx="6.5" ry="6.5" fill="#fff" fill-opacity="0.8" stroke="#cccccc" stroke-opacity="0.8" stroke-width="2.33"/>
<path d="M172.85 1330.70H238.25" stroke="#b12a90" stroke-width="3.48" stroke-linecap="square"/>
<text x="263.30" y="1342.40" font-size="32.67">(1) J062802.01-663738.0, RMS = 0.008 rad</text>
<path d="M172.85 1378.55H238.25" stroke="#e16462" stroke-width="3.48" stroke-linecap="square"/>
<text x="263.30" y="1389.90" font-size="32.67">(2) TYC 8906-1660-1, RMS = 0.007 rad</text>
<path d="M172.85 1426.40H238.25" stroke="#fca636" stroke-width="3.48" stroke-linecap="square"/>
<text x="263.30" y="1437.60" font-size="32.67">(3) CPD-67 607, RMS = 0.006 rad</text>
<rect x="142.35" y="911.50" width="857.35" height="561.95" fill="none" stroke="#000" stroke-width="1.867" stroke-linejoin="miter" stroke-linecap="square"/>
<path d="M142.35 911.50h-8.17M142.35 991.78h-8.17M142.35 1072.06h-8.17M142.35 1152.34h-8.17M142.35 1232.61h-8.17M142.35 1312.89h-8.17M142.35 1393.17h-8.17M142.35 1473.45h-8.17M181.32 1473.45v8.17M354.14 1473.45v8.17M526.96 1473.45v8.17M699.77 1473.45v8.17M872.59 1473.45v8.17" stroke="#000" stroke-width="1.867" fill="none"/>
<text x="126.30" y="922.10" font-size="28.0" text-anchor="end">0.06</text>
<text x="126.30" y="1002.38" font-size="28.0" text-anchor="end">0.04</text>
<text x="126.30" y="1082.66" font-size="28.0" text-anchor="end">0.02</text>
<text x="126.30" y="1162.94" font-size="28.0" text-anchor="end">0.00</text>
<text x="126.30" y="1243.21" font-size="28.0" text-anchor="end">−0.02</text>
<text x="126.30" y="1323.49" font-size="28.0" text-anchor="end">−0.04</text>
<text x="126.30" y="1403.77" font-size="28.0" text-anchor="end">−0.06</text>
<text x="126.30" y="1484.05" font-size="28.0" text-anchor="end">−0.08</text>
<text x="181.32" y="1511.00" font-size="28.0" text-anchor="middle">0</text>
<text x="354.14" y="1511.00" font-size="28.0" text-anchor="middle">100</text>
<text x="526.96" y="1511.00" font-size="28.0" text-anchor="middle">200</text>
<text x="699.77" y="1511.00" font-size="28.0" text-anchor="middle">300</text>
<text x="872.59" y="1511.00" font-size="28.0" text-anchor="middle">400</text>
<text x="571.02" y="1550.30" font-size="32.67" text-anchor="middle">Index</text>
<text transform="translate(24.80,1193.47) rotate(-90)" font-size="32.67" text-anchor="middle">Kernel phase [rad]</text>
<clipPath id="c11"><rect x="1211.40" y="911.50" width="857.35" height="561.95"/></clipPath>
<path d="M1211.40 991.78H2068.75M1211.40 1072.06H2068.75M1211.40 1152.34H2068.75M1211.40 1232.61H2068.75M1211.40 1312.89H2068.75M1211.40 1393.17H2068.75" stroke="#b0b0b0" stroke-width="1.867" fill="none"/>
<polyline clip-path="url(#c11)" points="1250.4,1182.2 1252.1,1183.6 1253.8,1196.7 1255.6,1175.0 1257.3,1172.9 1259.0,1151.0 1260.7,1169.6 1262.5,1168.4 1264.2,1136.3 1265.9,1123.9 1267.7,1177.8 1269.4,1179.1 1271.1,1178.1 1272.8,1185.2 1274.6,1188.9 1276.3,1187.0 1278.0,1177.8 1279.7,1186.4 1281.5,1185.4 1283.2,1189.1 1284.9,1191.2 1286.7,1158.9 1288.4,1153.2 1290.1,1182.8 1291.8,1194.1 1293.6,1183.8 1295.3,1137.1 1297.0,1120.1 1298.8,1129.4 1300.5,1134.1 1302.2,1119.8 1303.9,1135.3 1305.7,1143.4 1307.4,1155.6 1309.1,1181.0 1310.9,1193.0 1312.6,1163.4 1314.3,1159.8 1316.0,1187.7 1317.8,1200.9 1319.5,1191.9 1321.2,1183.9 1323.0,1188.4 1324.7,1181.5 1326.4,1176.2 1328.1,1179.0 1329.9,1179.5 1331.6,1176.8 1333.3,1135.5 1335.1,1121.5 1336.8,1139.9 1338.5,1137.4 1340.2,1131.4 1342.0,1142.4 1343.7,1175.4 1345.4,1147.5 1347.1,1178.6 1348.9,1187.3 1350.6,1175.9 1352.3,1197.6 1354.1,1209.4 1355.8,1187.3 1357.5,1147.7 1359.2,1136.7 1361.0,1144.7 1362.7,1185.1 1364.4,1192.9 1366.2,1182.7 1367.9,1138.9 1369.6,1178.9 1371.3,1143.0 1373.1,1140.4 1374.8,1121.5 1376.5,1180.5 1378.3,1193.9 1380.0,1142.3 1381.7,1129.0 1383.4,1138.1 1385.2,1156.9 1386.9,1155.1 1388.6,1181.1 1390.4,1186.8 1392.1,1213.3 1393.8,1189.0 1395.5,1190.6 1397.3,1202.5 1399.0,1153.9 1400.7,1143.8 1402.5,1146.6 1404.2,1178.3 1405.9,1183.7 1407.6,1173.2 1409.4,1147.8 1411.1,1180.0 1412.8,1147.8 1414.5,1134.9 1416.3,1172.3 1418.0,1179.3 1419.7,1172.4 1421.5,1153.6 1423.2,1135.5 1424.9,1145.7 1426.6,1194.4 1428.4,1201.3 1430.1,1191.2 1431.8,1164.7 1433.6,1157.6 1435.3,1169.0 1437.0,1182.9 1438.7,1193.4 1440.5,1197.5 1442.2,1195.4 1443.9,1183.3 1445.7,1188.6 1447.4,1184.7 1449.1,1181.6 1450.8,1127.4 1452.6,1112.5 1454.3,1168.4 1456.0,1175.1 1457.8,1177.8 1459.5,1143.0 1461.2,1131.9 1462.9,1181.4 1464.7,1195.5 1466.4,1138.5 1468.1,1138.8 1469.8,1137.5 1471.6,1141.1 1473.3,1136.7 1475.0,1176.5 1476.8,1205.5 1478.5,1179.5 1480.2,1185.7 1481.9,1196.2 1483.7,1177.7 1485.4,1164.8 1487.1,1128.7 1488.9,1114.0 1490.6,1168.7 1492.3,1185.7 1494.0,1124.0 1495.8,1111.5 1497.5,1127.2 1499.2,1143.3 1501.0,1132.8 1502.7,1160.3 1504.4,1182.4 1506.1,1194.9 1507.9,1143.2 1509.6,1129.7 1511.3,1193.0 1513.1,1226.4 1514.8,1146.3 1516.5,1146.5 1518.2,1182.5 1520.0,1189.3 1521.7,1172.3 1523.4,1139.2 1525.2,1167.3 1526.9,1129.9 1528.6,1122.6 1530.3,1165.1 1532.1,1176.1 1533.8,1139.0 1535.5,1122.3 1537.2,1134.7 1539.0,1144.1 1540.7,1166.2 1542.4,1185.5 1544.2,1191.4 1545.9,1176.9 1547.6,1151.4 1549.3,1138.4 1551.1,1126.7 1552.8,1208.5 1554.5,1153.9 1556.3,1143.6 1558.0,1192.7 1559.7,1217.3 1561.4,1144.2 1563.2,1127.4 1564.9,1146.8 1566.6,1132.4 1568.4,1112.2 1570.1,1179.5 1571.8,1186.8 1573.5,1184.6 1575.3,1153.3 1577.0,1139.5 1578.7,1147.7 1580.5,1189.4 1582.2,1206.6 1583.9,1193.8 1585.6,1173.5 1587.4,1163.8 1589.1,1169.6 1590.8,1174.0 1592.6,1195.9 1594.3,1204.4 1596.0,1196.6 1597.7,1180.8 1599.5,1180.2 1601.2,1178.7 1602.9,1150.0 1604.6,1141.0 1606.4,1151.9 1608.1,1166.9 1609.8,1179.6 1611.6,1185.9 1613.3,1179.7 1615.0,1186.1 1616.7,1197.7 1618.5,1133.3 1620.2,1144.1 1621.9,1151.2 1623.7,1139.9 1625.4,1184.1 1627.1,1176.5 1628.8,1150.8 1630.6,1145.4 1632.3,1135.5 1634.0,1179.1 1635.8,1189.4 1637.5,1180.9 1639.2,1167.8 1640.9,1180.2 1642.7,1168.3 1644.4,1163.3 1646.1,1130.3 1647.9,1125.3 1649.6,1131.6 1651.3,1121.4 1653.0,1125.4 1654.8,1133.8 1656.5,1162.2 1658.2,1170.3 1659.9,1161.4 1661.7,1182.3 1663.4,1193.3 1665.1,1177.5 1666.9,1170.6 1668.6,1147.3 1670.3,1133.1 1672.0,1144.6 1673.8,1179.9 1675.5,1193.3 1677.2,1184.1 1679.0,1169.5 1680.7,1181.7 1682.4,1122.3 1684.1,1111.0 1685.9,1155.3 1687.6,1160.3 1689.3,1152.1 1691.1,1121.2 1692.8,1111.6 1694.5,1119.8 1696.2,1164.6 1698.0,1171.7 1699.7,1137.3 1701.4,1136.2 1703.2,1140.9 1704.9,1178.0 1706.6,1190.8 1708.3,1184.5 1710.1,1174.3 1711.8,1148.0 1713.5,1138.3 1715.3,1187.4 1717.0,1209.3 1718.7,1190.0 1720.4,1186.2 1722.2,1175.0 1723.9,1172.6 1725.6,1178.1 1727.3,1141.8 1729.1,1124.8 1730.8,1170.5 1732.5,1175.9 1734.3,1130.1 1736.0,1119.9 1737.7,1131.6 1739.4,1149.6 1741.2,1143.5 1742.9,1159.4 1744.6,1180.7 1746.4,1169.8 1748.1,1133.7 1749.8,1133.1 1751.5,1135.7 1753.3,1130.9 1755.0,1181.8 1756.7,1210.0 1758.5,1143.7 1760.2,1137.1 1761.9,1166.3 1763.6,1175.7 1765.4,1164.5 1767.1,1132.0 1768.8,1123.5 1770.6,1146.3 1772.3,1146.1 1774.0,1129.6 1775.7,1119.3 1777.5,1124.0 1779.2,1135.9 1780.9,1137.0 1782.6,1131.7 1784.4,1130.3 1786.1,1160.6 1787.8,1154.3 1789.6,1138.1 1791.3,1151.2 1793.0,1152.3 1794.7,1153.8 1796.5,1134.0 1798.2,1122.7 1799.9,1184.4 1801.7,1178.4 1803.4,1160.9 1805.1,1140.2 1806.8,1130.9 1808.6,1138.5 1810.3,1140.1 1812.0,1147.8 1813.8,1169.2 1815.5,1180.2 1817.2,1124.6 1818.9,1137.9 1820.7,1159.3 1822.4,1163.1 1824.1,1140.0 1825.9,1175.4 1827.6,1185.3 1829.3,1196.8 1831.0,1181.3 1832.8,1144.0 1834.5,1137.1 1836.2,1147.6 1838.0,1166.2 1839.7,1174.0 1841.4,1173.7 1843.1,1190.1 1844.9,1147.1 1846.6,1141.9 1848.3,1169.8 1850.0,1176.8 1851.8,1166.0 1853.5,1158.0 1855.2,1150.6 1857.0,1152.5 1858.7,1128.5 1860.4,1108.4 1862.1,1126.6 1863.9,1164.9 1865.6,1169.2 1867.3,1164.1 1869.1,1143.9 1870.8,1140.4 1872.5,1189.2 1874.2,1178.4 1876.0,1186.4 1877.7,1178.8 1879.4,1146.7 1881.2,1130.1 1882.9,1109.6 1884.6,1129.6 1886.3,1161.3 1888.1,1176.7 1889.8,1186.7 1891.5,1172.4 1893.3,1115.6 1895.0,1109.0 1896.7,1118.9 1898.4,1135.3 1900.2,1129.3 1901.9,1136.0 1903.6,1149.5 1905.4,1160.4 1907.1,1173.1 1908.8,1160.0 1910.5,1131.8 1912.3,1132.3 1914.0,1137.4 1915.7,1137.7 1917.4,1171.1 1919.2,1181.2 1920.9,1126.8 1922.6,1135.7 1924.4,1163.5 1926.1,1140.5 1927.8,1167.2 1929.5,1188.1 1931.3,1170.9 1933.0,1169.5 1934.7,1177.8 1936.5,1124.3 1938.2,1160.1 1939.9,1168.8 1941.6,1161.5 1943.4,1133.4 1945.1,1116.3 1946.8,1125.8 1948.6,1137.5 1950.3,1132.8 1952.0,1158.8 1953.7,1136.6 1955.5,1167.0 1957.2,1177.5 1958.9,1139.5 1960.7,1143.1 1962.4,1138.0 1964.1,1137.7 1965.8,1128.5 1967.6,1169.9 1969.3,1182.7 1971.0,1167.4 1972.7,1162.1 1974.5,1175.9 1976.2,1166.6 1977.9,1133.1 1979.7,1112.5 1981.4,1159.8 1983.1,1164.3 1984.8,1161.5 1986.6,1140.1 1988.3,1135.1 1990.0,1148.5 1991.8,1174.5 1993.5,1183.2 1995.2,1177.0 1996.9,1196.9 1998.7,1204.5 2000.4,1187.2 2002.1,1159.0 2003.9,1150.8 2005.6,1146.5 2007.3,1131.8 2009.0,1145.2 2010.8,1177.1 2012.5,1183.0 2014.2,1167.6 2016.0,1156.2 2017.7,1166.6 2019.4,1108.6 2021.1,1097.4 2022.9,1114.5 2024.6,1139.1 2026.3,1154.3 2028.1,1160.9 2029.8,1133.9" fill="none" stroke="#b12a90" stroke-width="3.48" stroke-linejoin="round" stroke-linecap="square"/>
<polyline clip-path="url(#c11)" points="1250.4,1179.7 1252.1,1184.4 1253.8,1193.9 1255.6,1178.8 1257.3,1172.1 1259.0,1152.8 1260.7,1167.2 1262.5,1168.0 1264.2,1138.8 1265.9,1125.9 1267.7,1176.2 1269.4,1182.1 1271.1,1178.5 1272.8,1183.8 1274.6,1186.8 1276.3,1185.5 1278.0,1179.1 1279.7,1184.1 1281.5,1184.4 1283.2,1186.7 1284.9,1191.9 1286.7,1158.6 1288.4,1154.7 1290.1,1182.8 1291.8,1191.9 1293.6,1183.9 1295.3,1139.4 1297.0,1119.8 1298.8,1131.6 1300.5,1140.5 1302.2,1120.9 1303.9,1137.2 1305.7,1141.9 1307.4,1156.5 1309.1,1179.2 1310.9,1192.9 1312.6,1163.1 1314.3,1157.9 1316.0,1188.3 1317.8,1199.0 1319.5,1189.0 1321.2,1183.0 1323.0,1185.8 1324.7,1181.3 1326.4,1175.4 1328.1,1177.7 1329.9,1179.7 1331.6,1174.1 1333.3,1137.9 1335.1,1119.8 1336.8,1143.1 1338.5,1138.5 1340.2,1132.0 1342.0,1141.8 1343.7,1175.6 1345.4,1147.7 1347.1,1177.6 1348.9,1187.8 1350.6,1174.6 1352.3,1195.8 1354.1,1208.1 1355.8,1187.9 1357.5,1147.8 1359.2,1137.8 1361.0,1145.3 1362.7,1185.3 1364.4,1193.9 1366.2,1180.3 1367.9,1139.4 1369.6,1178.0 1371.3,1144.5 1373.1,1143.5 1374.8,1122.9 1376.5,1180.0 1378.3,1194.3 1380.0,1141.0 1381.7,1129.0 1383.4,1138.2 1385.2,1157.0 1386.9,1155.6 1388.6,1179.4 1390.4,1188.5 1392.1,1210.1 1393.8,1187.5 1395.5,1191.0 1397.3,1202.0 1399.0,1154.0 1400.7,1145.0 1402.5,1148.4 1404.2,1177.5 1405.9,1183.8 1407.6,1171.2 1409.4,1148.3 1411.1,1176.6 1412.8,1146.8 1414.5,1134.0 1416.3,1173.7 1418.0,1177.8 1419.7,1172.3 1421.5,1152.3 1423.2,1136.1 1424.9,1145.7 1426.6,1191.7 1428.4,1201.0 1430.1,1187.3 1431.8,1165.4 1433.6,1161.8 1435.3,1167.3 1437.0,1181.9 1438.7,1189.6 1440.5,1195.9 1442.2,1191.2 1443.9,1183.3 1445.7,1186.6 1447.4,1180.7 1449.1,1178.6 1450.8,1126.0 1452.6,1113.8 1454.3,1169.3 1456.0,1173.8 1457.8,1175.1 1459.5,1142.2 1461.2,1133.0 1462.9,1176.6 1464.7,1194.9 1466.4,1139.8 1468.1,1135.6 1469.8,1140.0 1471.6,1139.1 1473.3,1137.1 1475.0,1177.5 1476.8,1201.0 1478.5,1175.6 1480.2,1182.7 1481.9,1192.9 1483.7,1176.6 1485.4,1163.5 1487.1,1128.9 1488.9,1114.8 1490.6,1167.9 1492.3,1183.1 1494.0,1125.6 1495.8,1113.2 1497.5,1126.7 1499.2,1146.6 1501.0,1131.6 1502.7,1161.2 1504.4,1180.2 1506.1,1193.9 1507.9,1144.5 1509.6,1132.0 1511.3,1193.8 1513.1,1222.3 1514.8,1151.1 1516.5,1147.4 1518.2,1180.1 1520.0,1185.8 1521.7,1175.3 1523.4,1142.4 1525.2,1166.8 1526.9,1132.1 1528.6,1125.9 1530.3,1164.8 1532.1,1174.6 1533.8,1139.6 1535.5,1124.9 1537.2,1135.5 1539.0,1142.6 1540.7,1167.0 1542.4,1181.6 1544.2,1188.8 1545.9,1178.0 1547.6,1151.9 1549.3,1139.4 1551.1,1128.0 1552.8,1208.1 1554.5,1153.9 1556.3,1141.0 1558.0,1191.6 1559.7,1210.1 1561.4,1141.4 1563.2,1131.0 1564.9,1148.8 1566.6,1132.5 1568.4,1113.8 1570.1,1178.7 1571.8,1187.2 1573.5,1182.3 1575.3,1152.0 1577.0,1139.1 1578.7,1148.2 1580.5,1188.5 1582.2,1204.0 1583.9,1193.5 1585.6,1171.2 1587.4,1163.3 1589.1,1167.9 1590.8,1171.7 1592.6,1196.3 1594.3,1202.0 1596.0,1193.5 1597.7,1179.8 1599.5,1177.7 1601.2,1178.7 1602.9,1151.5 1604.6,1143.2 1606.4,1150.4 1608.1,1166.2 1609.8,1181.6 1611.6,1184.4 1613.3,1180.8 1615.0,1187.3 1616.7,1193.9 1618.5,1136.1 1620.2,1145.7 1621.9,1152.8 1623.7,1143.2 1625.4,1183.8 1627.1,1175.8 1628.8,1152.0 1630.6,1145.2 1632.3,1137.1 1634.0,1175.0 1635.8,1190.9 1637.5,1179.1 1639.2,1168.2 1640.9,1179.7 1642.7,1168.0 1644.4,1163.1 1646.1,1131.3 1647.9,1123.9 1649.6,1131.7 1651.3,1124.6 1653.0,1124.9 1654.8,1133.0 1656.5,1165.3 1658.2,1171.6 1659.9,1163.7 1661.7,1181.3 1663.4,1192.3 1665.1,1177.8 1666.9,1170.9 1668.6,1147.5 1670.3,1131.7 1672.0,1143.8 1673.8,1176.6 1675.5,1194.3 1677.2,1182.3 1679.0,1168.7 1680.7,1181.2 1682.4,1123.6 1684.1,1113.5 1685.9,1154.3 1687.6,1157.7 1689.3,1154.9 1691.1,1121.4 1692.8,1112.5 1694.5,1119.9 1696.2,1163.3 1698.0,1171.1 1699.7,1139.1 1701.4,1135.2 1703.2,1141.8 1704.9,1176.0 1706.6,1191.3 1708.3,1181.4 1710.1,1173.7 1711.8,1149.4 1713.5,1136.7 1715.3,1186.3 1717.0,1207.4 1718.7,1187.3 1720.4,1184.6 1722.2,1175.8 1723.9,1172.3 1725.6,1176.5 1727.3,1142.0 1729.1,1126.6 1730.8,1171.8 1732.5,1176.3 1734.3,1132.1 1736.0,1123.6 1737.7,1130.0 1739.4,1147.5 1741.2,1140.3 1742.9,1160.4 1744.6,1176.1 1746.4,1169.1 1748.1,1135.7 1749.8,1131.7 1751.5,1135.3 1753.3,1131.3 1755.0,1181.9 1756.7,1205.4 1758.5,1144.5 1760.2,1138.8 1761.9,1166.0 1763.6,1175.1 1765.4,1166.0 1767.1,1133.1 1768.8,1124.6 1770.6,1146.1 1772.3,1147.3 1774.0,1130.0 1775.7,1121.6 1777.5,1125.3 1779.2,1138.3 1780.9,1136.3 1782.6,1132.6 1784.4,1131.7 1786.1,1161.0 1787.8,1156.0 1789.6,1139.2 1791.3,1152.6 1793.0,1155.3 1794.7,1155.1 1796.5,1133.1 1798.2,1121.6 1799.9,1184.2 1801.7,1176.8 1803.4,1161.0 1805.1,1140.4 1806.8,1133.7 1808.6,1140.9 1810.3,1138.9 1812.0,1148.4 1813.8,1168.1 1815.5,1177.1 1817.2,1126.6 1818.9,1138.2 1820.7,1159.7 1822.4,1166.5 1824.1,1142.6 1825.9,1176.2 1827.6,1183.4 1829.3,1193.3 1831.0,1182.1 1832.8,1143.8 1834.5,1137.7 1836.2,1147.2 1838.0,1165.8 1839.7,1176.9 1841.4,1172.4 1843.1,1188.2 1844.9,1147.6 1846.6,1142.8 1848.3,1167.3 1850.0,1173.1 1851.8,1164.5 1853.5,1157.4 1855.2,1149.4 1857.0,1150.9 1858.7,1128.0 1860.4,1109.5 1862.1,1127.4 1863.9,1161.8 1865.6,1167.6 1867.3,1164.2 1869.1,1144.0 1870.8,1138.8 1872.5,1187.2 1874.2,1177.4 1876.0,1186.2 1877.7,1175.2 1879.4,1147.9 1881.2,1130.2 1882.9,1111.5 1884.6,1131.5 1886.3,1159.6 1888.1,1174.5 1889.8,1185.2 1891.5,1172.7 1893.3,1116.1 1895.0,1108.5 1896.7,1119.1 1898.4,1136.5 1900.2,1131.9 1901.9,1135.8 1903.6,1149.0 1905.4,1159.7 1907.1,1172.1 1908.8,1158.2 1910.5,1131.8 1912.3,1133.3 1914.0,1138.1 1915.7,1138.2 1917.4,1168.7 1919.2,1179.1 1920.9,1126.6 1922.6,1137.9 1924.4,1165.2 1926.1,1141.4 1927.8,1169.0 1929.5,1186.2 1931.3,1169.7 1933.0,1166.8 1934.7,1177.1 1936.5,1124.6 1938.2,1159.8 1939.9,1168.9 1941.6,1160.7 1943.4,1132.3 1945.1,1117.5 1946.8,1126.7 1948.6,1138.0 1950.3,1134.5 1952.0,1158.1 1953.7,1136.7 1955.5,1169.0 1957.2,1178.1 1958.9,1139.8 1960.7,1142.0 1962.4,1137.8 1964.1,1138.8 1965.8,1130.7 1967.6,1172.9 1969.3,1181.2 1971.0,1167.0 1972.7,1161.1 1974.5,1175.1 1976.2,1165.4 1977.9,1132.2 1979.7,1115.5 1981.4,1159.7 1983.1,1165.8 1984.8,1160.4 1986.6,1140.9 1988.3,1136.7 1990.0,1145.8 1991.8,1171.6 1993.5,1183.2 1995.2,1176.2 1996.9,1192.4 1998.7,1201.4 2000.4,1184.3 2002.1,1158.0 2003.9,1153.2 2005.6,1145.8 2007.3,1135.7 2009.0,1145.1 2010.8,1175.1 2012.5,1184.2 2014.2,1168.5 2016.0,1158.2 2017.7,1169.0 2019.4,1111.9 2021.1,1101.4 2022.9,1113.3 2024.6,1138.4 2026.3,1154.9 2028.1,1161.0 2029.8,1135.7" fill="none" stroke="#e16462" stroke-width="3.48" stroke-linejoin="round" stroke-linecap="square"/>
<polyline clip-path="url(#c11)" points="1250.4,1152.3 1252.1,1147.0 1253.8,1142.6 1255.6,1146.9 1257.3,1146.8 1259.0,1148.0 1260.7,1146.7 1262.5,1149.0 1264.2,1152.0 1265.9,1150.1 1267.7,1150.1 1269.4,1155.9 1271.1,1150.8 1272.8,1150.5 1274.6,1149.8 1276.3,1152.3 1278.0,1149.2 1279.7,1148.0 1281.5,1152.5 1283.2,1149.8 1284.9,1147.6 1286.7,1147.3 1288.4,1153.2 1290.1,1154.7 1291.8,1151.3 1293.6,1154.4 1295.3,1142.4 1297.0,1151.9 1298.8,1153.7 1300.5,1148.9 1302.2,1152.0 1303.9,1159.3 1305.7,1152.9 1307.4,1154.7 1309.1,1153.4 1310.9,1157.0 1312.6,1155.2 1314.3,1152.3 1316.0,1151.4 1317.8,1154.9 1319.5,1154.2 1321.2,1154.6 1323.0,1151.1 1324.7,1151.5 1326.4,1155.5 1328.1,1149.5 1329.9,1153.1 1331.6,1150.0 1333.3,1154.0 1335.1,1150.5 1336.8,1151.3 1338.5,1150.8 1340.2,1149.2 1342.0,1149.1 1343.7,1150.0 1345.4,1150.2 1347.1,1155.4 1348.9,1152.1 1350.6,1159.0 1352.3,1160.6 1354.1,1154.0 1355.8,1152.4 1357.5,1145.9 1359.2,1147.6 1361.0,1146.4 1362.7,1151.2 1364.4,1149.4 1366.2,1146.5 1367.9,1148.2 1369.6,1149.1 1371.3,1150.2 1373.1,1154.1 1374.8,1154.7 1376.5,1156.8 1378.3,1150.6 1380.0,1151.8 1381.7,1153.5 1383.4,1150.1 1385.2,1152.8 1386.9,1147.5 1388.6,1143.4 1390.4,1147.8 1392.1,1152.7 1393.8,1156.6 1395.5,1144.8 1397.3,1148.0 1399.0,1154.5 1400.7,1147.7 1402.5,1156.2 1404.2,1153.5 1405.9,1152.2 1407.6,1152.4 1409.4,1155.2 1411.1,1143.2 1412.8,1150.7 1414.5,1149.4 1416.3,1150.4 1418.0,1156.5 1419.7,1153.9 1421.5,1150.7 1423.2,1147.5 1424.9,1151.4 1426.6,1149.6 1428.4,1151.8 1430.1,1148.9 1431.8,1159.3 1433.6,1150.4 1435.3,1152.9 1437.0,1153.3 1438.7,1161.5 1440.5,1156.7 1442.2,1149.8 1443.9,1142.3 1445.7,1151.6 1447.4,1153.3 1449.1,1149.5 1450.8,1149.5 1452.6,1152.6 1454.3,1151.8 1456.0,1152.3 1457.8,1148.9 1459.5,1147.5 1461.2,1143.8 1462.9,1146.1 1464.7,1147.4 1466.4,1149.5 1468.1,1147.2 1469.8,1153.6 1471.6,1143.6 1473.3,1148.3 1475.0,1145.2 1476.8,1152.5 1478.5,1147.4 1480.2,1148.6 1481.9,1151.0 1483.7,1153.2 1485.4,1154.4 1487.1,1145.0 1488.9,1145.2 1490.6,1149.2 1492.3,1149.7 1494.0,1153.1 1495.8,1157.8 1497.5,1158.6 1499.2,1154.5 1501.0,1152.0 1502.7,1155.2 1504.4,1148.8 1506.1,1148.5 1507.9,1149.7 1509.6,1156.9 1511.3,1152.7 1513.1,1151.2 1514.8,1155.4 1516.5,1159.5 1518.2,1145.6 1520.0,1147.5 1521.7,1151.5 1523.4,1145.1 1525.2,1145.6 1526.9,1148.1 1528.6,1149.4 1530.3,1147.7 1532.1,1144.8 1533.8,1149.3 1535.5,1151.3 1537.2,1148.7 1539.0,1160.5 1540.7,1152.4 1542.4,1152.5 1544.2,1151.2 1545.9,1151.5 1547.6,1149.7 1549.3,1150.1 1551.1,1150.4 1552.8,1151.1 1554.5,1149.2 1556.3,1152.3 1558.0,1147.5 1559.7,1156.2 1561.4,1151.1 1563.2,1149.2 1564.9,1155.0 1566.6,1153.1 1568.4,1146.4 1570.1,1150.3 1571.8,1153.8 1573.5,1162.1 1575.3,1151.8 1577.0,1150.6 1578.7,1148.5 1580.5,1142.9 1582.2,1149.2 1583.9,1149.9 1585.6,1153.1 1587.4,1151.4 1589.1,1151.0 1590.8,1148.1 1592.6,1148.2 1594.3,1153.0 1596.0,1152.9 1597.7,1146.2 1599.5,1153.3 1601.2,1148.5 1602.9,1144.4 1604.6,1147.1 1606.4,1149.1 1608.1,1145.5 1609.8,1148.4 1611.6,1150.3 1613.3,1151.4 1615.0,1146.7 1616.7,1147.4 1618.5,1144.5 1620.2,1150.7 1621.9,1151.9 1623.7,1152.5 1625.4,1150.1 1627.1,1153.1 1628.8,1147.9 1630.6,1148.9 1632.3,1153.9 1634.0,1162.1 1635.8,1159.6 1637.5,1147.3 1639.2,1150.3 1640.9,1150.1 1642.7,1152.1 1644.4,1149.6 1646.1,1157.4 1647.9,1159.3 1649.6,1158.4 1651.3,1152.0 1653.0,1148.5 1654.8,1148.6 1656.5,1150.8 1658.2,1155.4 1659.9,1148.8 1661.7,1151.4 1663.4,1150.9 1665.1,1151.1 1666.9,1152.5 1668.6,1153.7 1670.3,1153.5 1672.0,1156.0 1673.8,1150.9 1675.5,1151.4 1677.2,1147.2 1679.0,1156.6 1680.7,1147.7 1682.4,1150.4 1684.1,1151.3 1685.9,1153.8 1687.6,1154.3 1689.3,1156.9 1691.1,1148.7 1692.8,1151.1 1694.5,1148.2 1696.2,1147.3 1698.0,1151.9 1699.7,1151.8 1701.4,1152.2 1703.2,1147.3 1704.9,1149.6 1706.6,1149.9 1708.3,1148.0 1710.1,1150.5 1711.8,1143.3 1713.5,1152.6 1715.3,1146.6 1717.0,1144.8 1718.7,1153.7 1720.4,1148.2 1722.2,1149.2 1723.9,1147.3 1725.6,1154.4 1727.3,1150.6 1729.1,1154.2 1730.8,1152.6 1732.5,1146.0 1734.3,1150.3 1736.0,1158.8 1737.7,1157.4 1739.4,1156.2 1741.2,1148.2 1742.9,1152.7 1744.6,1156.8 1746.4,1147.9 1748.1,1149.3 1749.8,1149.2 1751.5,1153.3 1753.3,1146.1 1755.0,1150.2 1756.7,1157.8 1758.5,1156.2 1760.2,1154.9 1761.9,1152.1 1763.6,1148.3 1765.4,1152.9 1767.1,1153.3 1768.8,1143.3 1770.6,1148.9 1772.3,1152.3 1774.0,1150.9 1775.7,1155.3 1777.5,1149.7 1779.2,1147.0 1780.9,1152.1 1782.6,1147.4 1784.4,1151.1 1786.1,1149.8 1787.8,1153.2 1789.6,1154.1 1791.3,1156.8 1793.0,1151.2 1794.7,1151.8 1796.5,1151.9 1798.2,1155.0 1799.9,1155.8 1801.7,1154.0 1803.4,1149.7 1805.1,1149.4 1806.8,1152.9 1808.6,1150.1 1810.3,1144.3 1812.0,1149.1 1813.8,1143.1 1815.5,1147.6 1817.2,1145.3 1818.9,1151.6 1820.7,1146.7 1822.4,1154.2 1824.1,1150.5 1825.9,1151.9 1827.6,1158.2 1829.3,1157.2 1831.0,1147.9 1832.8,1148.4 1834.5,1145.6 1836.2,1149.0 1838.0,1160.9 1839.7,1151.9 1841.4,1153.0 1843.1,1153.0 1844.9,1152.8 1846.6,1153.9 1848.3,1154.8 1850.0,1147.1 1851.8,1148.4 1853.5,1152.6 1855.2,1152.6 1857.0,1147.6 1858.7,1148.7 1860.4,1149.6 1862.1,1155.0 1863.9,1153.2 1865.6,1155.3 1867.3,1158.6 1869.1,1149.1 1870.8,1151.6 1872.5,1152.4 1874.2,1154.6 1876.0,1148.8 1877.7,1142.8 1879.4,1147.1 1881.2,1146.7 1882.9,1154.4 1884.6,1150.9 1886.3,1150.0 1888.1,1145.2 1889.8,1149.6 1891.5,1153.9 1893.3,1151.6 1895.0,1152.5 1896.7,1145.9 1898.4,1147.4 1900.2,1148.9 1901.9,1149.7 1903.6,1147.5 1905.4,1151.9 1907.1,1154.3 1908.8,1158.3 1910.5,1148.0 1912.3,1148.4 1914.0,1148.0 1915.7,1150.1 1917.4,1144.6 1919.2,1153.1 1920.9,1146.9 1922.6,1153.1 1924.4,1152.9 1926.1,1155.6 1927.8,1151.4 1929.5,1152.0 1931.3,1149.5 1933.0,1152.7 1934.7,1156.2 1936.5,1149.8 1938.2,1146.0 1939.9,1147.2 1941.6,1150.3 1943.4,1149.3 1945.1,1156.6 1946.8,1153.2 1948.6,1147.1 1950.3,1148.4 1952.0,1153.4 1953.7,1148.3 1955.5,1150.8 1957.2,1148.2 1958.9,1155.4 1960.7,1153.6 1962.4,1150.2 1964.1,1149.6 1965.8,1148.6 1967.6,1150.4 1969.3,1151.5 1971.0,1149.3 1972.7,1147.4 1974.5,1155.6 1976.2,1153.0 1977.9,1152.0 1979.7,1150.5 1981.4,1147.1 1983.1,1154.9 1984.8,1149.7 1986.6,1156.9 1988.3,1154.8 1990.0,1153.5 1991.8,1152.3 1993.5,1153.3 1995.2,1153.2 1996.9,1152.5 1998.7,1152.1 2000.4,1157.7 2002.1,1157.3 2003.9,1153.7 2005.6,1149.5 2007.3,1146.9 2009.0,1139.8 2010.8,1148.2 2012.5,1153.1 2014.2,1150.6 2016.0,1148.3 2017.7,1149.8 2019.4,1154.4 2021.1,1151.9 2022.9,1151.2 2024.6,1156.0 2026.3,1156.2 2028.1,1147.6 2029.8,1158.2" fill="none" stroke="#fca636" stroke-width="3.48" stroke-linejoin="round" stroke-linecap="square"/>
<path d="M1211.40 1152.34H2068.75" stroke="#000" stroke-width="3.48" stroke-dasharray="12.88 5.57" fill="none"/>
<rect x="1381.80" y="1304.80" width="517.40" height="152.20" rx="6.5" ry="6.5" fill="#fff" fill-opacity="0.8" stroke="#cccccc" stroke-opacity="0.8" stroke-width="2.33"/>
<path d="M1394.35 1330.70H1459.75" stroke="#b12a90" stroke-width="3.48" stroke-linecap="square"/>
<text x="1484.80" y="1342.40" font-size="32.67">(1)-(2), RMS = 0.005 rad</text>
<path d="M1394.35 1378.55H1459.75" stroke="#e16462" stroke-width="3.48" stroke-linecap="square"/>
<text x="1484.80" y="1389.90" font-size="32.67">(1)-(3), RMS = 0.006 rad</text>
<path d="M1394.35 1426.40H1459.75" stroke="#fca636" stroke-width="3.48" stroke-linecap="square"/>
<text x="1484.80" y="1437.60" font-size="32.67">(2)-(3), RMS = 0.001 rad</text>
<rect x="1211.40" y="911.50" width="857.35" height="561.95" fill="none" stroke="#000" stroke-width="1.867" stroke-linejoin="miter" stroke-linecap="square"/>
<path d="M1211.40 911.50h-8.17M1211.40 991.78h-8.17M1211.40 1072.06h-8.17M1211.40 1152.34h-8.17M1211.40 1232.61h-8.17M1211.40 1312.89h-8.17M1211.40 1393.17h-8.17M1211.40 1473.45h-8.17M1250.37 1473.45v8.17M1423.19 1473.45v8.17M1596.01 1473.45v8.17M1768.82 1473.45v8.17M1941.64 1473.45v8.17" stroke="#000" stroke-width="1.867" fill="none"/>
<text x="1195.35" y="922.10" font-size="28.0" text-anchor="end">0.06</text>
<text x="1195.35" y="1002.38" font-size="28.0" text-anchor="end">0.04</text>
<text x="1195.35" y="1082.66" font-size="28.0" text-anchor="end">0.02</text>
<text x="1195.35" y="1162.94" font-size="28.0" text-anchor="end">0.00</text>
<text x="1195.35" y="1243.21" font-size="28.0" text-anchor="end">−0.02</text>
<text x="1195.35" y="1323.49" font-size="28.0" text-anchor="end">−0.04</text>
<text x="1195.35" y="1403.77" font-size="28.0" text-anchor="end">−0.06</text>
<text x="1195.35" y="1484.05" font-size="28.0" text-anchor="end">−0.08</text>
<text x="1250.37" y="1511.00" font-size="28.0" text-anchor="middle">0</text>
<text x="1423.19" y="1511.00" font-size="28.0" text-anchor="middle">100</text>
<text x="1596.01" y="1511.00" font-size="28.0" text-anchor="middle">200</text>
<text x="1768.82" y="1511.00" font-size="28.0" text-anchor="middle">300</text>
<text x="1941.64" y="1511.00" font-size="28.0" text-anchor="middle">400</text>
<text x="1640.07" y="1550.30" font-size="32.67" text-anchor="middle">Index</text>
<text transform="translate(1093.05,1193.97) rotate(-90)" font-size="32.8" text-anchor="middle">Kernel phase residual [rad]</text>
</svg></body></html>
